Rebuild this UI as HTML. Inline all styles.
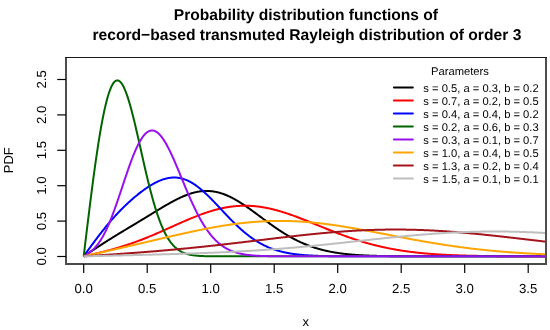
<!DOCTYPE html>
<html><head><meta charset="utf-8"><style>
html,body{margin:0;padding:0;background:#fff;}
svg{display:block;}
text{font-family:"Liberation Sans",Arial,sans-serif;fill:#000;text-rendering:geometricPrecision;}
</style></head><body>
<svg width="550" height="330" viewBox="0 0 550 330">
<rect width="550" height="330" fill="#fff"/>
<g font-weight="bold" font-size="15.6" text-anchor="middle">
<text x="305.9" y="20">Probability distribution functions of</text>
<text x="306.9" y="39.6" font-size="15.65">record−based transmuted Rayleigh distribution of order 3</text>
</g>
<defs><clipPath id="pr"><rect x="66" y="57.5" width="480" height="206.5"/></clipPath></defs>
<g clip-path="url(#pr)" fill="none" stroke-width="2" stroke-linejoin="round" stroke-linecap="butt">
<polyline points="83.70,256.35 84.34,255.92 84.97,255.50 85.61,255.07 86.24,254.65 86.88,254.23 87.51,253.80 88.15,253.38 88.78,252.95 89.42,252.53 90.05,252.11 90.69,251.68 91.32,251.26 91.95,250.84 92.59,250.42 93.23,250.00 93.86,249.58 94.50,249.16 95.13,248.74 95.77,248.32 96.40,247.90 97.03,247.49 97.67,247.07 98.31,246.65 98.94,246.24 99.58,245.83 100.21,245.41 100.84,245.00 101.48,244.59 102.12,244.18 102.75,243.77 103.39,243.36 104.02,242.96 104.66,242.55 105.29,242.14 105.93,241.74 106.56,241.34 107.20,240.93 107.83,240.53 108.47,240.13 109.10,239.73 109.74,239.33 110.37,238.94 111.00,238.54 111.64,238.14 112.28,237.75 112.91,237.35 113.55,236.96 114.18,236.57 114.81,236.18 115.45,235.79 116.09,235.40 116.72,235.01 117.36,234.62 117.99,234.23 118.62,233.84 119.26,233.45 119.90,233.07 120.53,232.68 121.16,232.30 121.80,231.91 122.44,231.53 123.07,231.15 123.71,230.76 124.34,230.38 124.97,230.00 125.61,229.62 126.25,229.23 126.88,228.85 127.52,228.47 128.15,228.09 128.78,227.71 129.42,227.33 130.06,226.95 130.69,226.57 131.32,226.19 131.96,225.80 132.59,225.42 133.23,225.04 133.87,224.66 134.50,224.28 135.13,223.90 135.77,223.52 136.41,223.13 137.04,222.75 137.68,222.37 138.31,221.99 138.94,221.60 139.58,221.22 140.22,220.84 140.85,220.45 141.49,220.07 142.12,219.69 142.75,219.30 143.39,218.92 144.03,218.53 144.66,218.15 145.30,217.76 145.93,217.37 146.56,216.99 147.20,216.60 147.84,216.21 148.47,215.83 149.11,215.44 149.74,215.05 150.38,214.66 151.01,214.28 151.65,213.89 152.28,213.50 152.92,213.11 153.55,212.73 154.19,212.34 154.82,211.95 155.46,211.57 156.09,211.18 156.73,210.79 157.36,210.41 158.00,210.02 158.63,209.64 159.26,209.26 159.90,208.87 160.53,208.49 161.17,208.11 161.81,207.73 162.44,207.35 163.07,206.98 163.71,206.60 164.34,206.23 164.98,205.85 165.62,205.48 166.25,205.11 166.88,204.75 167.52,204.38 168.16,204.02 168.79,203.66 169.43,203.30 170.06,202.94 170.69,202.59 171.33,202.24 171.97,201.89 172.60,201.54 173.24,201.20 173.87,200.86 174.50,200.53 175.14,200.20 175.78,199.87 176.41,199.54 177.05,199.22 177.68,198.91 178.31,198.60 178.95,198.29 179.59,197.99 180.22,197.69 180.86,197.39 181.49,197.10 182.12,196.82 182.76,196.54 183.40,196.27 184.03,196.00 184.67,195.74 185.30,195.48 185.94,195.23 186.57,194.99 187.21,194.75 187.84,194.51 188.48,194.29 189.11,194.07 189.75,193.86 190.38,193.65 191.01,193.45 191.65,193.26 192.28,193.07 192.92,192.89 193.56,192.72 194.19,192.56 194.82,192.40 195.46,192.25 196.09,192.11 196.73,191.98 197.37,191.85 198.00,191.74 198.63,191.63 199.27,191.52 199.91,191.43 200.54,191.35 201.18,191.27 201.81,191.20 202.44,191.14 203.08,191.09 203.72,191.05 204.35,191.01 204.99,190.99 205.62,190.97 206.25,190.96 206.89,190.96 207.53,190.97 208.16,190.99 208.80,191.02 209.43,191.05 210.06,191.10 210.70,191.15 211.34,191.21 211.97,191.28 212.61,191.36 213.24,191.45 213.88,191.55 214.51,191.65 215.14,191.77 215.78,191.89 216.42,192.02 217.05,192.16 217.69,192.31 218.32,192.47 218.95,192.64 219.59,192.81 220.23,192.99 220.86,193.18 221.50,193.38 222.13,193.59 222.76,193.81 223.40,194.03 224.04,194.26 224.67,194.50 225.31,194.75 225.94,195.01 226.57,195.27 227.21,195.54 227.85,195.82 228.48,196.10 229.12,196.39 229.75,196.69 230.38,197.00 231.02,197.31 231.66,197.63 232.29,197.96 232.93,198.29 233.56,198.63 234.19,198.97 234.83,199.32 235.47,199.68 236.10,200.04 236.74,200.41 237.37,200.78 238.00,201.16 238.64,201.55 239.28,201.94 239.91,202.33 240.55,202.73 241.18,203.13 241.81,203.54 242.45,203.95 243.09,204.37 243.72,204.79 244.36,205.21 244.99,205.64 245.62,206.07 246.26,206.51 246.89,206.95 247.53,207.39 248.17,207.83 248.80,208.28 249.44,208.73 250.07,209.18 250.70,209.64 251.34,210.09 251.98,210.55 252.61,211.01 253.25,211.48 253.88,211.94 254.51,212.41 255.15,212.87 255.79,213.34 256.42,213.81 257.06,214.28 257.69,214.75 258.32,215.22 258.96,215.69 259.60,216.16 260.23,216.63 260.87,217.10 261.50,217.57 262.13,218.05 262.77,218.52 263.41,218.99 264.04,219.46 264.68,219.92 265.31,220.39 265.94,220.86 266.58,221.32 267.22,221.79 267.85,222.25 268.49,222.71 269.12,223.17 269.75,223.63 270.39,224.08 271.03,224.54 271.66,224.99 272.30,225.44 272.93,225.89 273.56,226.33 274.20,226.78 274.84,227.22 275.47,227.65 276.11,228.09 276.74,228.52 277.38,228.95 278.01,229.38 278.65,229.80 279.28,230.22 279.92,230.64 280.55,231.05 281.19,231.46 281.82,231.87 282.45,232.27 283.09,232.67 283.73,233.07 284.36,233.47 285.00,233.86 285.63,234.24 286.26,234.62 286.90,235.00 287.54,235.38 288.17,235.75 288.81,236.12 289.44,236.48 290.07,236.84 290.71,237.20 291.35,237.55 291.98,237.90 292.62,238.24 293.25,238.58 293.88,238.92 294.52,239.25 295.16,239.58 295.79,239.90 296.43,240.22 297.06,240.53 297.69,240.85 298.33,241.15 298.97,241.46 299.60,241.75 300.24,242.05 300.87,242.34 301.50,242.63 302.14,242.91 302.78,243.19 303.41,243.46 304.05,243.73 304.68,244.00 305.31,244.26 305.95,244.52 306.59,244.77 307.22,245.03 307.86,245.27 308.49,245.51 309.12,245.75 309.76,245.99 310.40,246.22 311.03,246.45 311.67,246.67 312.30,246.89 312.94,247.10 313.57,247.32 314.20,247.52 314.84,247.73 315.48,247.93 316.11,248.13 316.75,248.32 317.38,248.51 318.01,248.70 318.65,248.88 319.29,249.06 319.92,249.24 320.56,249.41 321.19,249.58 321.82,249.74 322.46,249.91 323.10,250.07 323.73,250.22 324.37,250.38 325.00,250.53 325.63,250.67 326.27,250.82 326.91,250.96 327.54,251.10 328.18,251.23 328.81,251.37 329.44,251.50 330.08,251.62 330.72,251.75 331.35,251.87 331.99,251.99 332.62,252.11 333.25,252.22 333.89,252.33 334.53,252.44 335.16,252.55 335.80,252.65 336.43,252.75 337.06,252.85 337.70,252.95 338.33,253.04 338.97,253.13 339.61,253.22 340.24,253.31 340.88,253.40 341.51,253.48 342.14,253.56 342.78,253.64 343.41,253.72 344.05,253.80 344.69,253.87 345.32,253.94 345.95,254.01 346.59,254.08 347.23,254.15 347.86,254.21 348.50,254.28 349.13,254.34 349.76,254.40 350.40,254.46 351.03,254.52 351.67,254.57 352.31,254.63 352.94,254.68 353.57,254.73 354.21,254.78 354.85,254.83 355.48,254.88 356.12,254.92 356.75,254.97 357.39,255.01 358.02,255.05 358.65,255.09 359.29,255.13 359.93,255.17 360.56,255.21 361.19,255.25 361.83,255.28 362.46,255.32 363.10,255.35 363.74,255.38 364.37,255.41 365.00,255.44 365.64,255.47 366.27,255.50 366.91,255.53 367.54,255.56 368.18,255.59 368.81,255.61 369.45,255.64 370.08,255.66 370.72,255.68 371.36,255.71 371.99,255.73 372.62,255.75 373.26,255.77 373.89,255.79 374.53,255.81 375.16,255.83 375.80,255.85 376.44,255.86 377.07,255.88 377.70,255.90 378.34,255.91 378.98,255.93 379.61,255.94 380.25,255.96 380.88,255.97 381.51,255.99 382.15,256.00 382.78,256.01 383.42,256.02 384.06,256.04 384.69,256.05 385.32,256.06 385.96,256.07 386.60,256.08 387.23,256.09 387.87,256.10 388.50,256.11 389.14,256.12 389.77,256.13 390.40,256.13 391.04,256.14 391.68,256.15 392.31,256.16 392.94,256.17 393.58,256.17 394.21,256.18 394.85,256.19 395.49,256.19 396.12,256.20 396.75,256.20 397.39,256.21 398.02,256.21 398.66,256.22 399.29,256.23 399.93,256.23 400.56,256.23 401.20,256.24 401.83,256.24 402.47,256.25 403.11,256.25 403.74,256.26 404.38,256.26 405.01,256.26 405.64,256.27 406.28,256.27 406.91,256.27 407.55,256.28 408.19,256.28 408.82,256.28 409.45,256.29 410.09,256.29 410.73,256.29 411.36,256.29 412.00,256.30 412.63,256.30 413.26,256.30 413.90,256.30 414.53,256.30 415.17,256.31 415.81,256.31 416.44,256.31 417.07,256.31 417.71,256.31 418.35,256.31 418.98,256.32 419.62,256.32 420.25,256.32 420.89,256.32 421.52,256.32 422.15,256.32 422.79,256.32 423.43,256.32 424.06,256.33 424.69,256.33 425.33,256.33 425.96,256.33 426.60,256.33 427.24,256.33 427.87,256.33 428.50,256.33 429.14,256.33 429.77,256.33 430.41,256.33 431.04,256.34 431.68,256.34 432.31,256.34 432.95,256.34 433.58,256.34 434.22,256.34 434.86,256.34 435.49,256.34 436.12,256.34 436.76,256.34 437.39,256.34 438.03,256.34 438.66,256.34 439.30,256.34 439.94,256.34 440.57,256.34 441.20,256.34 441.84,256.34 442.48,256.34 443.11,256.34 443.75,256.34 444.38,256.34 445.01,256.34 445.65,256.35 446.28,256.35 446.92,256.35 447.56,256.35 448.19,256.35 448.82,256.35 449.46,256.35 450.10,256.35 450.73,256.35 451.37,256.35 452.00,256.35 452.64,256.35 453.27,256.35 453.90,256.35 454.54,256.35 455.18,256.35 455.81,256.35 456.44,256.35 457.08,256.35 457.71,256.35 458.35,256.35 458.99,256.35 459.62,256.35 460.25,256.35 460.89,256.35 461.52,256.35 462.16,256.35 462.79,256.35 463.43,256.35 464.06,256.35 464.70,256.35 465.33,256.35 465.97,256.35 466.61,256.35 467.24,256.35 467.88,256.35 468.51,256.35 469.14,256.35 469.78,256.35 470.41,256.35 471.05,256.35 471.69,256.35 472.32,256.35 472.95,256.35 473.59,256.35 474.23,256.35 474.86,256.35 475.50,256.35 476.13,256.35 476.76,256.35 477.40,256.35 478.03,256.35 478.67,256.35 479.31,256.35 479.94,256.35 480.57,256.35 481.21,256.35 481.85,256.35 482.48,256.35 483.12,256.35 483.75,256.35 484.39,256.35 485.02,256.35 485.65,256.35 486.29,256.35 486.93,256.35 487.56,256.35 488.19,256.35 488.83,256.35 489.47,256.35 490.10,256.35 490.74,256.35 491.37,256.35 492.00,256.35 492.64,256.35 493.27,256.35 493.91,256.35 494.54,256.35 495.18,256.35 495.81,256.35 496.45,256.35 497.08,256.35 497.72,256.35 498.36,256.35 498.99,256.35 499.62,256.35 500.26,256.35 500.89,256.35 501.53,256.35 502.16,256.35 502.80,256.35 503.44,256.35 504.07,256.35 504.70,256.35 505.34,256.35 505.98,256.35 506.61,256.35 507.25,256.35 507.88,256.35 508.51,256.35 509.15,256.35 509.78,256.35 510.42,256.35 511.06,256.35 511.69,256.35 512.33,256.35 512.96,256.35 513.60,256.35 514.23,256.35 514.87,256.35 515.50,256.35 516.14,256.35 516.77,256.35 517.40,256.35 518.04,256.35 518.68,256.35 519.31,256.35 519.95,256.35 520.58,256.35 521.22,256.35 521.85,256.35 522.49,256.35 523.12,256.35 523.75,256.35 524.39,256.35 525.02,256.35 525.66,256.35 526.29,256.35 526.93,256.35 527.57,256.35 528.20,256.35 528.84,256.35 529.47,256.35 530.11,256.35 530.74,256.35 531.38,256.35 532.01,256.35 532.64,256.35 533.28,256.35 533.91,256.35 534.55,256.35 535.19,256.35 535.82,256.35 536.46,256.35 537.09,256.35 537.73,256.35 538.36,256.35 539.00,256.35 539.63,256.35 540.26,256.35 540.90,256.35 541.53,256.35 542.17,256.35 542.81,256.35 543.44,256.35 544.08,256.35 544.71,256.35 545.35,256.35 545.98,256.35 546.62,256.35 547.25,256.35 547.89,256.35 548.52,256.35 549.15,256.35 549.79,256.35 550.43,256.35 551.06,256.35 551.70,256.35 552.33,256.35 552.97,256.35 553.60,256.35 554.24,256.35 554.87,256.35 555.50,256.35 556.14,256.35 556.77,256.35 557.41,256.35 558.04,256.35 558.68,256.35 559.32,256.35 559.95,256.35 560.59,256.35 561.22,256.35 561.86,256.35 562.49,256.35 563.12,256.35 563.76,256.35 564.39,256.35 565.03,256.35 565.66,256.35 566.30,256.35" stroke="#000000"/><polyline points="83.70,256.35 84.34,256.21 84.97,256.06 85.61,255.92 86.24,255.77 86.88,255.63 87.51,255.48 88.15,255.34 88.78,255.19 89.42,255.04 90.05,254.90 90.69,254.75 91.32,254.61 91.95,254.46 92.59,254.31 93.23,254.16 93.86,254.01 94.50,253.86 95.13,253.72 95.77,253.57 96.40,253.41 97.03,253.26 97.67,253.11 98.31,252.96 98.94,252.80 99.58,252.65 100.21,252.49 100.84,252.34 101.48,252.18 102.12,252.02 102.75,251.87 103.39,251.71 104.02,251.55 104.66,251.38 105.29,251.22 105.93,251.06 106.56,250.89 107.20,250.73 107.83,250.56 108.47,250.39 109.10,250.22 109.74,250.05 110.37,249.88 111.00,249.71 111.64,249.54 112.28,249.36 112.91,249.18 113.55,249.01 114.18,248.83 114.81,248.65 115.45,248.46 116.09,248.28 116.72,248.10 117.36,247.91 117.99,247.72 118.62,247.53 119.26,247.34 119.90,247.15 120.53,246.96 121.16,246.76 121.80,246.57 122.44,246.37 123.07,246.17 123.71,245.97 124.34,245.77 124.97,245.56 125.61,245.36 126.25,245.15 126.88,244.94 127.52,244.73 128.15,244.52 128.78,244.31 129.42,244.09 130.06,243.88 130.69,243.66 131.32,243.44 131.96,243.22 132.59,243.00 133.23,242.77 133.87,242.55 134.50,242.32 135.13,242.09 135.77,241.86 136.41,241.63 137.04,241.39 137.68,241.16 138.31,240.92 138.94,240.68 139.58,240.44 140.22,240.20 140.85,239.96 141.49,239.72 142.12,239.47 142.75,239.22 143.39,238.97 144.03,238.72 144.66,238.47 145.30,238.22 145.93,237.97 146.56,237.71 147.20,237.45 147.84,237.20 148.47,236.94 149.11,236.68 149.74,236.42 150.38,236.15 151.01,235.89 151.65,235.62 152.28,235.36 152.92,235.09 153.55,234.82 154.19,234.55 154.82,234.28 155.46,234.01 156.09,233.74 156.73,233.46 157.36,233.19 158.00,232.91 158.63,232.64 159.26,232.36 159.90,232.08 160.53,231.80 161.17,231.52 161.81,231.24 162.44,230.96 163.07,230.68 163.71,230.40 164.34,230.12 164.98,229.84 165.62,229.55 166.25,229.27 166.88,228.99 167.52,228.70 168.16,228.42 168.79,228.13 169.43,227.85 170.06,227.56 170.69,227.28 171.33,226.99 171.97,226.71 172.60,226.42 173.24,226.14 173.87,225.85 174.50,225.57 175.14,225.28 175.78,225.00 176.41,224.72 177.05,224.43 177.68,224.15 178.31,223.87 178.95,223.58 179.59,223.30 180.22,223.02 180.86,222.74 181.49,222.46 182.12,222.18 182.76,221.90 183.40,221.63 184.03,221.35 184.67,221.07 185.30,220.80 185.94,220.53 186.57,220.25 187.21,219.98 187.84,219.71 188.48,219.44 189.11,219.18 189.75,218.91 190.38,218.65 191.01,218.38 191.65,218.12 192.28,217.86 192.92,217.60 193.56,217.34 194.19,217.09 194.82,216.84 195.46,216.58 196.09,216.33 196.73,216.09 197.37,215.84 198.00,215.59 198.63,215.35 199.27,215.11 199.91,214.87 200.54,214.64 201.18,214.40 201.81,214.17 202.44,213.94 203.08,213.72 203.72,213.49 204.35,213.27 204.99,213.05 205.62,212.83 206.25,212.62 206.89,212.41 207.53,212.20 208.16,211.99 208.80,211.79 209.43,211.59 210.06,211.39 210.70,211.20 211.34,211.00 211.97,210.81 212.61,210.63 213.24,210.44 213.88,210.26 214.51,210.09 215.14,209.91 215.78,209.74 216.42,209.57 217.05,209.41 217.69,209.25 218.32,209.09 218.95,208.94 219.59,208.78 220.23,208.64 220.86,208.49 221.50,208.35 222.13,208.21 222.76,208.08 223.40,207.95 224.04,207.82 224.67,207.70 225.31,207.58 225.94,207.46 226.57,207.35 227.21,207.24 227.85,207.14 228.48,207.03 229.12,206.94 229.75,206.84 230.38,206.75 231.02,206.67 231.66,206.58 232.29,206.50 232.93,206.43 233.56,206.36 234.19,206.29 234.83,206.23 235.47,206.17 236.10,206.11 236.74,206.06 237.37,206.01 238.00,205.97 238.64,205.92 239.28,205.89 239.91,205.86 240.55,205.83 241.18,205.80 241.81,205.78 242.45,205.76 243.09,205.75 243.72,205.74 244.36,205.74 244.99,205.74 245.62,205.74 246.26,205.74 246.89,205.75 247.53,205.77 248.17,205.79 248.80,205.81 249.44,205.83 250.07,205.86 250.70,205.90 251.34,205.93 251.98,205.98 252.61,206.02 253.25,206.07 253.88,206.12 254.51,206.18 255.15,206.24 255.79,206.30 256.42,206.37 257.06,206.44 257.69,206.51 258.32,206.59 258.96,206.67 259.60,206.76 260.23,206.85 260.87,206.94 261.50,207.04 262.13,207.14 262.77,207.24 263.41,207.35 264.04,207.46 264.68,207.57 265.31,207.69 265.94,207.81 266.58,207.93 267.22,208.06 267.85,208.19 268.49,208.32 269.12,208.46 269.75,208.59 270.39,208.74 271.03,208.88 271.66,209.03 272.30,209.18 272.93,209.34 273.56,209.49 274.20,209.66 274.84,209.82 275.47,209.98 276.11,210.15 276.74,210.32 277.38,210.50 278.01,210.68 278.65,210.86 279.28,211.04 279.92,211.22 280.55,211.41 281.19,211.60 281.82,211.79 282.45,211.99 283.09,212.18 283.73,212.38 284.36,212.58 285.00,212.79 285.63,212.99 286.26,213.20 286.90,213.41 287.54,213.62 288.17,213.84 288.81,214.05 289.44,214.27 290.07,214.49 290.71,214.71 291.35,214.94 291.98,215.16 292.62,215.39 293.25,215.62 293.88,215.85 294.52,216.08 295.16,216.31 295.79,216.55 296.43,216.78 297.06,217.02 297.69,217.26 298.33,217.50 298.97,217.74 299.60,217.99 300.24,218.23 300.87,218.47 301.50,218.72 302.14,218.97 302.78,219.22 303.41,219.46 304.05,219.71 304.68,219.97 305.31,220.22 305.95,220.47 306.59,220.72 307.22,220.98 307.86,221.23 308.49,221.49 309.12,221.74 309.76,222.00 310.40,222.25 311.03,222.51 311.67,222.77 312.30,223.03 312.94,223.29 313.57,223.54 314.20,223.80 314.84,224.06 315.48,224.32 316.11,224.58 316.75,224.84 317.38,225.10 318.01,225.36 318.65,225.62 319.29,225.88 319.92,226.14 320.56,226.39 321.19,226.65 321.82,226.91 322.46,227.17 323.10,227.43 323.73,227.69 324.37,227.94 325.00,228.20 325.63,228.46 326.27,228.71 326.91,228.97 327.54,229.22 328.18,229.48 328.81,229.73 329.44,229.99 330.08,230.24 330.72,230.49 331.35,230.74 331.99,230.99 332.62,231.24 333.25,231.49 333.89,231.74 334.53,231.99 335.16,232.24 335.80,232.48 336.43,232.73 337.06,232.97 337.70,233.21 338.33,233.46 338.97,233.70 339.61,233.94 340.24,234.18 340.88,234.41 341.51,234.65 342.14,234.89 342.78,235.12 343.41,235.35 344.05,235.59 344.69,235.82 345.32,236.05 345.95,236.28 346.59,236.50 347.23,236.73 347.86,236.95 348.50,237.18 349.13,237.40 349.76,237.62 350.40,237.84 351.03,238.06 351.67,238.27 352.31,238.49 352.94,238.70 353.57,238.92 354.21,239.13 354.85,239.34 355.48,239.55 356.12,239.75 356.75,239.96 357.39,240.16 358.02,240.36 358.65,240.57 359.29,240.77 359.93,240.96 360.56,241.16 361.19,241.35 361.83,241.55 362.46,241.74 363.10,241.93 363.74,242.12 364.37,242.31 365.00,242.49 365.64,242.68 366.27,242.86 366.91,243.04 367.54,243.22 368.18,243.40 368.81,243.57 369.45,243.75 370.08,243.92 370.72,244.09 371.36,244.26 371.99,244.43 372.62,244.60 373.26,244.76 373.89,244.93 374.53,245.09 375.16,245.25 375.80,245.41 376.44,245.57 377.07,245.72 377.70,245.88 378.34,246.03 378.98,246.18 379.61,246.33 380.25,246.48 380.88,246.62 381.51,246.77 382.15,246.91 382.78,247.05 383.42,247.19 384.06,247.33 384.69,247.47 385.32,247.60 385.96,247.74 386.60,247.87 387.23,248.00 387.87,248.13 388.50,248.26 389.14,248.39 389.77,248.51 390.40,248.64 391.04,248.76 391.68,248.88 392.31,249.00 392.94,249.12 393.58,249.23 394.21,249.35 394.85,249.46 395.49,249.57 396.12,249.68 396.75,249.79 397.39,249.90 398.02,250.01 398.66,250.11 399.29,250.22 399.93,250.32 400.56,250.42 401.20,250.52 401.83,250.62 402.47,250.72 403.11,250.81 403.74,250.91 404.38,251.00 405.01,251.09 405.64,251.18 406.28,251.27 406.91,251.36 407.55,251.45 408.19,251.53 408.82,251.62 409.45,251.70 410.09,251.79 410.73,251.87 411.36,251.95 412.00,252.03 412.63,252.10 413.26,252.18 413.90,252.26 414.53,252.33 415.17,252.40 415.81,252.47 416.44,252.55 417.07,252.62 417.71,252.68 418.35,252.75 418.98,252.82 419.62,252.89 420.25,252.95 420.89,253.01 421.52,253.08 422.15,253.14 422.79,253.20 423.43,253.26 424.06,253.32 424.69,253.38 425.33,253.43 425.96,253.49 426.60,253.54 427.24,253.60 427.87,253.65 428.50,253.71 429.14,253.76 429.77,253.81 430.41,253.86 431.04,253.91 431.68,253.96 432.31,254.00 432.95,254.05 433.58,254.10 434.22,254.14 434.86,254.19 435.49,254.23 436.12,254.27 436.76,254.31 437.39,254.36 438.03,254.40 438.66,254.44 439.30,254.48 439.94,254.51 440.57,254.55 441.20,254.59 441.84,254.63 442.48,254.66 443.11,254.70 443.75,254.73 444.38,254.77 445.01,254.80 445.65,254.83 446.28,254.86 446.92,254.90 447.56,254.93 448.19,254.96 448.82,254.99 449.46,255.02 450.10,255.05 450.73,255.07 451.37,255.10 452.00,255.13 452.64,255.15 453.27,255.18 453.90,255.21 454.54,255.23 455.18,255.26 455.81,255.28 456.44,255.30 457.08,255.33 457.71,255.35 458.35,255.37 458.99,255.39 459.62,255.42 460.25,255.44 460.89,255.46 461.52,255.48 462.16,255.50 462.79,255.52 463.43,255.54 464.06,255.55 464.70,255.57 465.33,255.59 465.97,255.61 466.61,255.63 467.24,255.64 467.88,255.66 468.51,255.67 469.14,255.69 469.78,255.71 470.41,255.72 471.05,255.74 471.69,255.75 472.32,255.76 472.95,255.78 473.59,255.79 474.23,255.81 474.86,255.82 475.50,255.83 476.13,255.84 476.76,255.86 477.40,255.87 478.03,255.88 478.67,255.89 479.31,255.90 479.94,255.91 480.57,255.92 481.21,255.93 481.85,255.94 482.48,255.95 483.12,255.96 483.75,255.97 484.39,255.98 485.02,255.99 485.65,256.00 486.29,256.01 486.93,256.02 487.56,256.03 488.19,256.03 488.83,256.04 489.47,256.05 490.10,256.06 490.74,256.07 491.37,256.07 492.00,256.08 492.64,256.09 493.27,256.09 493.91,256.10 494.54,256.11 495.18,256.11 495.81,256.12 496.45,256.12 497.08,256.13 497.72,256.14 498.36,256.14 498.99,256.15 499.62,256.15 500.26,256.16 500.89,256.16 501.53,256.17 502.16,256.17 502.80,256.18 503.44,256.18 504.07,256.19 504.70,256.19 505.34,256.19 505.98,256.20 506.61,256.20 507.25,256.21 507.88,256.21 508.51,256.21 509.15,256.22 509.78,256.22 510.42,256.23 511.06,256.23 511.69,256.23 512.33,256.24 512.96,256.24 513.60,256.24 514.23,256.24 514.87,256.25 515.50,256.25 516.14,256.25 516.77,256.26 517.40,256.26 518.04,256.26 518.68,256.26 519.31,256.27 519.95,256.27 520.58,256.27 521.22,256.27 521.85,256.27 522.49,256.28 523.12,256.28 523.75,256.28 524.39,256.28 525.02,256.28 525.66,256.29 526.29,256.29 526.93,256.29 527.57,256.29 528.20,256.29 528.84,256.30 529.47,256.30 530.11,256.30 530.74,256.30 531.38,256.30 532.01,256.30 532.64,256.30 533.28,256.31 533.91,256.31 534.55,256.31 535.19,256.31 535.82,256.31 536.46,256.31 537.09,256.31 537.73,256.31 538.36,256.31 539.00,256.32 539.63,256.32 540.26,256.32 540.90,256.32 541.53,256.32 542.17,256.32 542.81,256.32 543.44,256.32 544.08,256.32 544.71,256.32 545.35,256.32 545.98,256.33 546.62,256.33 547.25,256.33 547.89,256.33 548.52,256.33 549.15,256.33 549.79,256.33 550.43,256.33 551.06,256.33 551.70,256.33 552.33,256.33 552.97,256.33 553.60,256.33 554.24,256.33 554.87,256.33 555.50,256.33 556.14,256.34 556.77,256.34 557.41,256.34 558.04,256.34 558.68,256.34 559.32,256.34 559.95,256.34 560.59,256.34 561.22,256.34 561.86,256.34 562.49,256.34 563.12,256.34 563.76,256.34 564.39,256.34 565.03,256.34 565.66,256.34 566.30,256.34" stroke="#FF0000"/><polyline points="83.70,256.35 84.34,255.46 84.97,254.58 85.61,253.69 86.24,252.81 86.88,251.93 87.51,251.04 88.15,250.16 88.78,249.28 89.42,248.40 90.05,247.53 90.69,246.65 91.32,245.78 91.95,244.91 92.59,244.04 93.23,243.18 93.86,242.32 94.50,241.46 95.13,240.61 95.77,239.75 96.40,238.91 97.03,238.06 97.67,237.22 98.31,236.38 98.94,235.55 99.58,234.72 100.21,233.90 100.84,233.08 101.48,232.27 102.12,231.46 102.75,230.65 103.39,229.85 104.02,229.06 104.66,228.27 105.29,227.48 105.93,226.71 106.56,225.93 107.20,225.16 107.83,224.40 108.47,223.64 109.10,222.89 109.74,222.14 110.37,221.40 111.00,220.67 111.64,219.94 112.28,219.21 112.91,218.49 113.55,217.78 114.18,217.07 114.81,216.37 115.45,215.67 116.09,214.98 116.72,214.30 117.36,213.62 117.99,212.94 118.62,212.27 119.26,211.61 119.90,210.95 120.53,210.30 121.16,209.65 121.80,209.01 122.44,208.38 123.07,207.75 123.71,207.12 124.34,206.50 124.97,205.88 125.61,205.27 126.25,204.67 126.88,204.07 127.52,203.47 128.15,202.88 128.78,202.30 129.42,201.72 130.06,201.15 130.69,200.58 131.32,200.01 131.96,199.45 132.59,198.90 133.23,198.35 133.87,197.80 134.50,197.26 135.13,196.73 135.77,196.20 136.41,195.67 137.04,195.15 137.68,194.64 138.31,194.13 138.94,193.63 139.58,193.13 140.22,192.64 140.85,192.15 141.49,191.67 142.12,191.19 142.75,190.72 143.39,190.25 144.03,189.79 144.66,189.34 145.30,188.89 145.93,188.45 146.56,188.02 147.20,187.59 147.84,187.17 148.47,186.75 149.11,186.35 149.74,185.94 150.38,185.55 151.01,185.16 151.65,184.78 152.28,184.41 152.92,184.05 153.55,183.69 154.19,183.34 154.82,183.01 155.46,182.67 156.09,182.35 156.73,182.04 157.36,181.73 158.00,181.44 158.63,181.15 159.26,180.87 159.90,180.61 160.53,180.35 161.17,180.10 161.81,179.86 162.44,179.64 163.07,179.42 163.71,179.22 164.34,179.02 164.98,178.84 165.62,178.67 166.25,178.51 166.88,178.36 167.52,178.22 168.16,178.10 168.79,177.99 169.43,177.88 170.06,177.80 170.69,177.72 171.33,177.66 171.97,177.61 172.60,177.57 173.24,177.55 173.87,177.53 174.50,177.54 175.14,177.55 175.78,177.58 176.41,177.62 177.05,177.68 177.68,177.75 178.31,177.83 178.95,177.93 179.59,178.04 180.22,178.16 180.86,178.30 181.49,178.45 182.12,178.61 182.76,178.79 183.40,178.98 184.03,179.19 184.67,179.41 185.30,179.64 185.94,179.89 186.57,180.15 187.21,180.42 187.84,180.71 188.48,181.01 189.11,181.32 189.75,181.65 190.38,181.98 191.01,182.33 191.65,182.70 192.28,183.07 192.92,183.46 193.56,183.86 194.19,184.27 194.82,184.70 195.46,185.13 196.09,185.58 196.73,186.04 197.37,186.51 198.00,186.98 198.63,187.47 199.27,187.97 199.91,188.48 200.54,189.00 201.18,189.53 201.81,190.07 202.44,190.62 203.08,191.17 203.72,191.74 204.35,192.31 204.99,192.89 205.62,193.47 206.25,194.07 206.89,194.67 207.53,195.28 208.16,195.89 208.80,196.51 209.43,197.14 210.06,197.77 210.70,198.41 211.34,199.05 211.97,199.70 212.61,200.35 213.24,201.00 213.88,201.66 214.51,202.32 215.14,202.99 215.78,203.65 216.42,204.32 217.05,204.99 217.69,205.67 218.32,206.34 218.95,207.02 219.59,207.70 220.23,208.37 220.86,209.05 221.50,209.73 222.13,210.41 222.76,211.09 223.40,211.76 224.04,212.44 224.67,213.11 225.31,213.79 225.94,214.46 226.57,215.13 227.21,215.79 227.85,216.46 228.48,217.12 229.12,217.78 229.75,218.43 230.38,219.09 231.02,219.73 231.66,220.38 232.29,221.02 232.93,221.66 233.56,222.29 234.19,222.92 234.83,223.54 235.47,224.16 236.10,224.77 236.74,225.38 237.37,225.98 238.00,226.57 238.64,227.17 239.28,227.75 239.91,228.33 240.55,228.90 241.18,229.47 241.81,230.03 242.45,230.58 243.09,231.13 243.72,231.67 244.36,232.21 244.99,232.73 245.62,233.25 246.26,233.77 246.89,234.27 247.53,234.77 248.17,235.27 248.80,235.75 249.44,236.23 250.07,236.70 250.70,237.17 251.34,237.63 251.98,238.08 252.61,238.52 253.25,238.96 253.88,239.38 254.51,239.81 255.15,240.22 255.79,240.63 256.42,241.03 257.06,241.42 257.69,241.81 258.32,242.18 258.96,242.56 259.60,242.92 260.23,243.28 260.87,243.63 261.50,243.97 262.13,244.31 262.77,244.64 263.41,244.96 264.04,245.28 264.68,245.59 265.31,245.89 265.94,246.19 266.58,246.48 267.22,246.76 267.85,247.04 268.49,247.31 269.12,247.58 269.75,247.83 270.39,248.09 271.03,248.34 271.66,248.58 272.30,248.81 272.93,249.04 273.56,249.27 274.20,249.49 274.84,249.70 275.47,249.91 276.11,250.11 276.74,250.31 277.38,250.50 278.01,250.69 278.65,250.87 279.28,251.05 279.92,251.22 280.55,251.39 281.19,251.55 281.82,251.71 282.45,251.87 283.09,252.02 283.73,252.16 284.36,252.30 285.00,252.44 285.63,252.58 286.26,252.71 286.90,252.83 287.54,252.96 288.17,253.07 288.81,253.19 289.44,253.30 290.07,253.41 290.71,253.52 291.35,253.62 291.98,253.72 292.62,253.81 293.25,253.90 293.88,253.99 294.52,254.08 295.16,254.17 295.79,254.25 296.43,254.33 297.06,254.40 297.69,254.48 298.33,254.55 298.97,254.62 299.60,254.68 300.24,254.75 300.87,254.81 301.50,254.87 302.14,254.93 302.78,254.98 303.41,255.04 304.05,255.09 304.68,255.14 305.31,255.19 305.95,255.23 306.59,255.28 307.22,255.32 307.86,255.36 308.49,255.41 309.12,255.44 309.76,255.48 310.40,255.52 311.03,255.55 311.67,255.59 312.30,255.62 312.94,255.65 313.57,255.68 314.20,255.71 314.84,255.73 315.48,255.76 316.11,255.79 316.75,255.81 317.38,255.83 318.01,255.86 318.65,255.88 319.29,255.90 319.92,255.92 320.56,255.94 321.19,255.96 321.82,255.97 322.46,255.99 323.10,256.01 323.73,256.02 324.37,256.04 325.00,256.05 325.63,256.07 326.27,256.08 326.91,256.09 327.54,256.10 328.18,256.11 328.81,256.13 329.44,256.14 330.08,256.15 330.72,256.16 331.35,256.16 331.99,256.17 332.62,256.18 333.25,256.19 333.89,256.20 334.53,256.21 335.16,256.21 335.80,256.22 336.43,256.23 337.06,256.23 337.70,256.24 338.33,256.24 338.97,256.25 339.61,256.25 340.24,256.26 340.88,256.26 341.51,256.27 342.14,256.27 342.78,256.28 343.41,256.28 344.05,256.28 344.69,256.29 345.32,256.29 345.95,256.29 346.59,256.30 347.23,256.30 347.86,256.30 348.50,256.30 349.13,256.31 349.76,256.31 350.40,256.31 351.03,256.31 351.67,256.31 352.31,256.32 352.94,256.32 353.57,256.32 354.21,256.32 354.85,256.32 355.48,256.32 356.12,256.33 356.75,256.33 357.39,256.33 358.02,256.33 358.65,256.33 359.29,256.33 359.93,256.33 360.56,256.33 361.19,256.33 361.83,256.34 362.46,256.34 363.10,256.34 363.74,256.34 364.37,256.34 365.00,256.34 365.64,256.34 366.27,256.34 366.91,256.34 367.54,256.34 368.18,256.34 368.81,256.34 369.45,256.34 370.08,256.34 370.72,256.34 371.36,256.34 371.99,256.34 372.62,256.34 373.26,256.34 373.89,256.35 374.53,256.35 375.16,256.35 375.80,256.35 376.44,256.35 377.07,256.35 377.70,256.35 378.34,256.35 378.98,256.35 379.61,256.35 380.25,256.35 380.88,256.35 381.51,256.35 382.15,256.35 382.78,256.35 383.42,256.35 384.06,256.35 384.69,256.35 385.32,256.35 385.96,256.35 386.60,256.35 387.23,256.35 387.87,256.35 388.50,256.35 389.14,256.35 389.77,256.35 390.40,256.35 391.04,256.35 391.68,256.35 392.31,256.35 392.94,256.35 393.58,256.35 394.21,256.35 394.85,256.35 395.49,256.35 396.12,256.35 396.75,256.35 397.39,256.35 398.02,256.35 398.66,256.35 399.29,256.35 399.93,256.35 400.56,256.35 401.20,256.35 401.83,256.35 402.47,256.35 403.11,256.35 403.74,256.35 404.38,256.35 405.01,256.35 405.64,256.35 406.28,256.35 406.91,256.35 407.55,256.35 408.19,256.35 408.82,256.35 409.45,256.35 410.09,256.35 410.73,256.35 411.36,256.35 412.00,256.35 412.63,256.35 413.26,256.35 413.90,256.35 414.53,256.35 415.17,256.35 415.81,256.35 416.44,256.35 417.07,256.35 417.71,256.35 418.35,256.35 418.98,256.35 419.62,256.35 420.25,256.35 420.89,256.35 421.52,256.35 422.15,256.35 422.79,256.35 423.43,256.35 424.06,256.35 424.69,256.35 425.33,256.35 425.96,256.35 426.60,256.35 427.24,256.35 427.87,256.35 428.50,256.35 429.14,256.35 429.77,256.35 430.41,256.35 431.04,256.35 431.68,256.35 432.31,256.35 432.95,256.35 433.58,256.35 434.22,256.35 434.86,256.35 435.49,256.35 436.12,256.35 436.76,256.35 437.39,256.35 438.03,256.35 438.66,256.35 439.30,256.35 439.94,256.35 440.57,256.35 441.20,256.35 441.84,256.35 442.48,256.35 443.11,256.35 443.75,256.35 444.38,256.35 445.01,256.35 445.65,256.35 446.28,256.35 446.92,256.35 447.56,256.35 448.19,256.35 448.82,256.35 449.46,256.35 450.10,256.35 450.73,256.35 451.37,256.35 452.00,256.35 452.64,256.35 453.27,256.35 453.90,256.35 454.54,256.35 455.18,256.35 455.81,256.35 456.44,256.35 457.08,256.35 457.71,256.35 458.35,256.35 458.99,256.35 459.62,256.35 460.25,256.35 460.89,256.35 461.52,256.35 462.16,256.35 462.79,256.35 463.43,256.35 464.06,256.35 464.70,256.35 465.33,256.35 465.97,256.35 466.61,256.35 467.24,256.35 467.88,256.35 468.51,256.35 469.14,256.35 469.78,256.35 470.41,256.35 471.05,256.35 471.69,256.35 472.32,256.35 472.95,256.35 473.59,256.35 474.23,256.35 474.86,256.35 475.50,256.35 476.13,256.35 476.76,256.35 477.40,256.35 478.03,256.35 478.67,256.35 479.31,256.35 479.94,256.35 480.57,256.35 481.21,256.35 481.85,256.35 482.48,256.35 483.12,256.35 483.75,256.35 484.39,256.35 485.02,256.35 485.65,256.35 486.29,256.35 486.93,256.35 487.56,256.35 488.19,256.35 488.83,256.35 489.47,256.35 490.10,256.35 490.74,256.35 491.37,256.35 492.00,256.35 492.64,256.35 493.27,256.35 493.91,256.35 494.54,256.35 495.18,256.35 495.81,256.35 496.45,256.35 497.08,256.35 497.72,256.35 498.36,256.35 498.99,256.35 499.62,256.35 500.26,256.35 500.89,256.35 501.53,256.35 502.16,256.35 502.80,256.35 503.44,256.35 504.07,256.35 504.70,256.35 505.34,256.35 505.98,256.35 506.61,256.35 507.25,256.35 507.88,256.35 508.51,256.35 509.15,256.35 509.78,256.35 510.42,256.35 511.06,256.35 511.69,256.35 512.33,256.35 512.96,256.35 513.60,256.35 514.23,256.35 514.87,256.35 515.50,256.35 516.14,256.35 516.77,256.35 517.40,256.35 518.04,256.35 518.68,256.35 519.31,256.35 519.95,256.35 520.58,256.35 521.22,256.35 521.85,256.35 522.49,256.35 523.12,256.35 523.75,256.35 524.39,256.35 525.02,256.35 525.66,256.35 526.29,256.35 526.93,256.35 527.57,256.35 528.20,256.35 528.84,256.35 529.47,256.35 530.11,256.35 530.74,256.35 531.38,256.35 532.01,256.35 532.64,256.35 533.28,256.35 533.91,256.35 534.55,256.35 535.19,256.35 535.82,256.35 536.46,256.35 537.09,256.35 537.73,256.35 538.36,256.35 539.00,256.35 539.63,256.35 540.26,256.35 540.90,256.35 541.53,256.35 542.17,256.35 542.81,256.35 543.44,256.35 544.08,256.35 544.71,256.35 545.35,256.35 545.98,256.35 546.62,256.35 547.25,256.35 547.89,256.35 548.52,256.35 549.15,256.35 549.79,256.35 550.43,256.35 551.06,256.35 551.70,256.35 552.33,256.35 552.97,256.35 553.60,256.35 554.24,256.35 554.87,256.35 555.50,256.35 556.14,256.35 556.77,256.35 557.41,256.35 558.04,256.35 558.68,256.35 559.32,256.35 559.95,256.35 560.59,256.35 561.22,256.35 561.86,256.35 562.49,256.35 563.12,256.35 563.76,256.35 564.39,256.35 565.03,256.35 565.66,256.35 566.30,256.35" stroke="#0000FF"/><polyline points="83.70,256.35 84.34,251.04 84.97,245.73 85.61,240.43 86.24,235.15 86.88,229.88 87.51,224.65 88.15,219.44 88.78,214.26 89.42,209.13 90.05,204.04 90.69,199.00 91.32,194.01 91.95,189.08 92.59,184.21 93.23,179.41 93.86,174.69 94.50,170.03 95.13,165.46 95.77,160.98 96.40,156.58 97.03,152.27 97.67,148.07 98.31,143.96 98.94,139.95 99.58,136.06 100.21,132.27 100.84,128.60 101.48,125.05 102.12,121.61 102.75,118.30 103.39,115.12 104.02,112.07 104.66,109.14 105.29,106.35 105.93,103.70 106.56,101.18 107.20,98.80 107.83,96.56 108.47,94.47 109.10,92.52 109.74,90.71 110.37,89.05 111.00,87.53 111.64,86.16 112.28,84.94 112.91,83.86 113.55,82.93 114.18,82.14 114.81,81.50 115.45,81.01 116.09,80.66 116.72,80.45 117.36,80.38 117.99,80.45 118.62,80.66 119.26,81.01 119.90,81.49 120.53,82.10 121.16,82.84 121.80,83.70 122.44,84.69 123.07,85.80 123.71,87.03 124.34,88.37 124.97,89.82 125.61,91.38 126.25,93.04 126.88,94.80 127.52,96.65 128.15,98.60 128.78,100.63 129.42,102.75 130.06,104.94 130.69,107.21 131.32,109.55 131.96,111.95 132.59,114.41 133.23,116.93 133.87,119.50 134.50,122.11 135.13,124.77 135.77,127.46 136.41,130.19 137.04,132.95 137.68,135.73 138.31,138.52 138.94,141.34 139.58,144.16 140.22,147.00 140.85,149.83 141.49,152.67 142.12,155.49 142.75,158.31 143.39,161.12 144.03,163.91 144.66,166.69 145.30,169.44 145.93,172.16 146.56,174.86 147.20,177.52 147.84,180.15 148.47,182.75 149.11,185.31 149.74,187.82 150.38,190.30 151.01,192.72 151.65,195.11 152.28,197.44 152.92,199.73 153.55,201.96 154.19,204.15 154.82,206.28 155.46,208.35 156.09,210.38 156.73,212.35 157.36,214.26 158.00,216.12 158.63,217.93 159.26,219.68 159.90,221.37 160.53,223.01 161.17,224.60 161.81,226.13 162.44,227.61 163.07,229.04 163.71,230.41 164.34,231.73 164.98,233.00 165.62,234.22 166.25,235.39 166.88,236.52 167.52,237.59 168.16,238.62 168.79,239.61 169.43,240.55 170.06,241.45 170.69,242.31 171.33,243.13 171.97,243.91 172.60,244.65 173.24,245.36 173.87,246.03 174.50,246.66 175.14,247.27 175.78,247.84 176.41,248.38 177.05,248.89 177.68,249.38 178.31,249.83 178.95,250.27 179.59,250.67 180.22,251.06 180.86,251.42 181.49,251.76 182.12,252.08 182.76,252.38 183.40,252.66 184.03,252.92 184.67,253.17 185.30,253.40 185.94,253.62 186.57,253.82 187.21,254.01 187.84,254.19 188.48,254.35 189.11,254.51 189.75,254.65 190.38,254.78 191.01,254.90 191.65,255.02 192.28,255.13 192.92,255.22 193.56,255.32 194.19,255.40 194.82,255.48 195.46,255.55 196.09,255.62 196.73,255.68 197.37,255.74 198.00,255.79 198.63,255.84 199.27,255.88 199.91,255.92 200.54,255.96 201.18,256.00 201.81,256.03 202.44,256.06 203.08,256.08 203.72,256.11 204.35,256.13 204.99,256.15 205.62,256.17 206.25,256.19 206.89,256.20 207.53,256.22 208.16,256.23 208.80,256.24 209.43,256.25 210.06,256.26 210.70,256.27 211.34,256.28 211.97,256.28 212.61,256.29 213.24,256.30 213.88,256.30 214.51,256.31 215.14,256.31 215.78,256.32 216.42,256.32 217.05,256.32 217.69,256.33 218.32,256.33 218.95,256.33 219.59,256.33 220.23,256.33 220.86,256.34 221.50,256.34 222.13,256.34 222.76,256.34 223.40,256.34 224.04,256.34 224.67,256.34 225.31,256.34 225.94,256.34 226.57,256.35 227.21,256.35 227.85,256.35 228.48,256.35 229.12,256.35 229.75,256.35 230.38,256.35 231.02,256.35 231.66,256.35 232.29,256.35 232.93,256.35 233.56,256.35 234.19,256.35 234.83,256.35 235.47,256.35 236.10,256.35 236.74,256.35 237.37,256.35 238.00,256.35 238.64,256.35 239.28,256.35 239.91,256.35 240.55,256.35 241.18,256.35 241.81,256.35 242.45,256.35 243.09,256.35 243.72,256.35 244.36,256.35 244.99,256.35 245.62,256.35 246.26,256.35 246.89,256.35 247.53,256.35 248.17,256.35 248.80,256.35 249.44,256.35 250.07,256.35 250.70,256.35 251.34,256.35 251.98,256.35 252.61,256.35 253.25,256.35 253.88,256.35 254.51,256.35 255.15,256.35 255.79,256.35 256.42,256.35 257.06,256.35 257.69,256.35 258.32,256.35 258.96,256.35 259.60,256.35 260.23,256.35 260.87,256.35 261.50,256.35 262.13,256.35 262.77,256.35 263.41,256.35 264.04,256.35 264.68,256.35 265.31,256.35 265.94,256.35 266.58,256.35 267.22,256.35 267.85,256.35 268.49,256.35 269.12,256.35 269.75,256.35 270.39,256.35 271.03,256.35 271.66,256.35 272.30,256.35 272.93,256.35 273.56,256.35 274.20,256.35 274.84,256.35 275.47,256.35 276.11,256.35 276.74,256.35 277.38,256.35 278.01,256.35 278.65,256.35 279.28,256.35 279.92,256.35 280.55,256.35 281.19,256.35 281.82,256.35 282.45,256.35 283.09,256.35 283.73,256.35 284.36,256.35 285.00,256.35 285.63,256.35 286.26,256.35 286.90,256.35 287.54,256.35 288.17,256.35 288.81,256.35 289.44,256.35 290.07,256.35 290.71,256.35 291.35,256.35 291.98,256.35 292.62,256.35 293.25,256.35 293.88,256.35 294.52,256.35 295.16,256.35 295.79,256.35 296.43,256.35 297.06,256.35 297.69,256.35 298.33,256.35 298.97,256.35 299.60,256.35 300.24,256.35 300.87,256.35 301.50,256.35 302.14,256.35 302.78,256.35 303.41,256.35 304.05,256.35 304.68,256.35 305.31,256.35 305.95,256.35 306.59,256.35 307.22,256.35 307.86,256.35 308.49,256.35 309.12,256.35 309.76,256.35 310.40,256.35 311.03,256.35 311.67,256.35 312.30,256.35 312.94,256.35 313.57,256.35 314.20,256.35 314.84,256.35 315.48,256.35 316.11,256.35 316.75,256.35 317.38,256.35 318.01,256.35 318.65,256.35 319.29,256.35 319.92,256.35 320.56,256.35 321.19,256.35 321.82,256.35 322.46,256.35 323.10,256.35 323.73,256.35 324.37,256.35 325.00,256.35 325.63,256.35 326.27,256.35 326.91,256.35 327.54,256.35 328.18,256.35 328.81,256.35 329.44,256.35 330.08,256.35 330.72,256.35 331.35,256.35 331.99,256.35 332.62,256.35 333.25,256.35 333.89,256.35 334.53,256.35 335.16,256.35 335.80,256.35 336.43,256.35 337.06,256.35 337.70,256.35 338.33,256.35 338.97,256.35 339.61,256.35 340.24,256.35 340.88,256.35 341.51,256.35 342.14,256.35 342.78,256.35 343.41,256.35 344.05,256.35 344.69,256.35 345.32,256.35 345.95,256.35 346.59,256.35 347.23,256.35 347.86,256.35 348.50,256.35 349.13,256.35 349.76,256.35 350.40,256.35 351.03,256.35 351.67,256.35 352.31,256.35 352.94,256.35 353.57,256.35 354.21,256.35 354.85,256.35 355.48,256.35 356.12,256.35 356.75,256.35 357.39,256.35 358.02,256.35 358.65,256.35 359.29,256.35 359.93,256.35 360.56,256.35 361.19,256.35 361.83,256.35 362.46,256.35 363.10,256.35 363.74,256.35 364.37,256.35 365.00,256.35 365.64,256.35 366.27,256.35 366.91,256.35 367.54,256.35 368.18,256.35 368.81,256.35 369.45,256.35 370.08,256.35 370.72,256.35 371.36,256.35 371.99,256.35 372.62,256.35 373.26,256.35 373.89,256.35 374.53,256.35 375.16,256.35 375.80,256.35 376.44,256.35 377.07,256.35 377.70,256.35 378.34,256.35 378.98,256.35 379.61,256.35 380.25,256.35 380.88,256.35 381.51,256.35 382.15,256.35 382.78,256.35 383.42,256.35 384.06,256.35 384.69,256.35 385.32,256.35 385.96,256.35 386.60,256.35 387.23,256.35 387.87,256.35 388.50,256.35 389.14,256.35 389.77,256.35 390.40,256.35 391.04,256.35 391.68,256.35 392.31,256.35 392.94,256.35 393.58,256.35 394.21,256.35 394.85,256.35 395.49,256.35 396.12,256.35 396.75,256.35 397.39,256.35 398.02,256.35 398.66,256.35 399.29,256.35 399.93,256.35 400.56,256.35 401.20,256.35 401.83,256.35 402.47,256.35 403.11,256.35 403.74,256.35 404.38,256.35 405.01,256.35 405.64,256.35 406.28,256.35 406.91,256.35 407.55,256.35 408.19,256.35 408.82,256.35 409.45,256.35 410.09,256.35 410.73,256.35 411.36,256.35 412.00,256.35 412.63,256.35 413.26,256.35 413.90,256.35 414.53,256.35 415.17,256.35 415.81,256.35 416.44,256.35 417.07,256.35 417.71,256.35 418.35,256.35 418.98,256.35 419.62,256.35 420.25,256.35 420.89,256.35 421.52,256.35 422.15,256.35 422.79,256.35 423.43,256.35 424.06,256.35 424.69,256.35 425.33,256.35 425.96,256.35 426.60,256.35 427.24,256.35 427.87,256.35 428.50,256.35 429.14,256.35 429.77,256.35 430.41,256.35 431.04,256.35 431.68,256.35 432.31,256.35 432.95,256.35 433.58,256.35 434.22,256.35 434.86,256.35 435.49,256.35 436.12,256.35 436.76,256.35 437.39,256.35 438.03,256.35 438.66,256.35 439.30,256.35 439.94,256.35 440.57,256.35 441.20,256.35 441.84,256.35 442.48,256.35 443.11,256.35 443.75,256.35 444.38,256.35 445.01,256.35 445.65,256.35 446.28,256.35 446.92,256.35 447.56,256.35 448.19,256.35 448.82,256.35 449.46,256.35 450.10,256.35 450.73,256.35 451.37,256.35 452.00,256.35 452.64,256.35 453.27,256.35 453.90,256.35 454.54,256.35 455.18,256.35 455.81,256.35 456.44,256.35 457.08,256.35 457.71,256.35 458.35,256.35 458.99,256.35 459.62,256.35 460.25,256.35 460.89,256.35 461.52,256.35 462.16,256.35 462.79,256.35 463.43,256.35 464.06,256.35 464.70,256.35 465.33,256.35 465.97,256.35 466.61,256.35 467.24,256.35 467.88,256.35 468.51,256.35 469.14,256.35 469.78,256.35 470.41,256.35 471.05,256.35 471.69,256.35 472.32,256.35 472.95,256.35 473.59,256.35 474.23,256.35 474.86,256.35 475.50,256.35 476.13,256.35 476.76,256.35 477.40,256.35 478.03,256.35 478.67,256.35 479.31,256.35 479.94,256.35 480.57,256.35 481.21,256.35 481.85,256.35 482.48,256.35 483.12,256.35 483.75,256.35 484.39,256.35 485.02,256.35 485.65,256.35 486.29,256.35 486.93,256.35 487.56,256.35 488.19,256.35 488.83,256.35 489.47,256.35 490.10,256.35 490.74,256.35 491.37,256.35 492.00,256.35 492.64,256.35 493.27,256.35 493.91,256.35 494.54,256.35 495.18,256.35 495.81,256.35 496.45,256.35 497.08,256.35 497.72,256.35 498.36,256.35 498.99,256.35 499.62,256.35 500.26,256.35 500.89,256.35 501.53,256.35 502.16,256.35 502.80,256.35 503.44,256.35 504.07,256.35 504.70,256.35 505.34,256.35 505.98,256.35 506.61,256.35 507.25,256.35 507.88,256.35 508.51,256.35 509.15,256.35 509.78,256.35 510.42,256.35 511.06,256.35 511.69,256.35 512.33,256.35 512.96,256.35 513.60,256.35 514.23,256.35 514.87,256.35 515.50,256.35 516.14,256.35 516.77,256.35 517.40,256.35 518.04,256.35 518.68,256.35 519.31,256.35 519.95,256.35 520.58,256.35 521.22,256.35 521.85,256.35 522.49,256.35 523.12,256.35 523.75,256.35 524.39,256.35 525.02,256.35 525.66,256.35 526.29,256.35 526.93,256.35 527.57,256.35 528.20,256.35 528.84,256.35 529.47,256.35 530.11,256.35 530.74,256.35 531.38,256.35 532.01,256.35 532.64,256.35 533.28,256.35 533.91,256.35 534.55,256.35 535.19,256.35 535.82,256.35 536.46,256.35 537.09,256.35 537.73,256.35 538.36,256.35 539.00,256.35 539.63,256.35 540.26,256.35 540.90,256.35 541.53,256.35 542.17,256.35 542.81,256.35 543.44,256.35 544.08,256.35 544.71,256.35 545.35,256.35 545.98,256.35 546.62,256.35 547.25,256.35 547.89,256.35 548.52,256.35 549.15,256.35 549.79,256.35 550.43,256.35 551.06,256.35 551.70,256.35 552.33,256.35 552.97,256.35 553.60,256.35 554.24,256.35 554.87,256.35 555.50,256.35 556.14,256.35 556.77,256.35 557.41,256.35 558.04,256.35 558.68,256.35 559.32,256.35 559.95,256.35 560.59,256.35 561.22,256.35 561.86,256.35 562.49,256.35 563.12,256.35 563.76,256.35 564.39,256.35 565.03,256.35 565.66,256.35 566.30,256.35" stroke="#006400"/><polyline points="83.70,256.35 84.34,255.96 84.97,255.56 85.61,255.16 86.24,254.75 86.88,254.34 87.51,253.92 88.15,253.48 88.78,253.03 89.42,252.57 90.05,252.09 90.69,251.59 91.32,251.07 91.95,250.53 92.59,249.96 93.23,249.37 93.86,248.75 94.50,248.11 95.13,247.43 95.77,246.72 96.40,245.98 97.03,245.21 97.67,244.41 98.31,243.57 98.94,242.69 99.58,241.78 100.21,240.83 100.84,239.84 101.48,238.81 102.12,237.75 102.75,236.65 103.39,235.51 104.02,234.33 104.66,233.11 105.29,231.85 105.93,230.55 106.56,229.22 107.20,227.85 107.83,226.44 108.47,224.99 109.10,223.51 109.74,221.99 110.37,220.44 111.00,218.86 111.64,217.25 112.28,215.60 112.91,213.93 113.55,212.22 114.18,210.49 114.81,208.74 115.45,206.96 116.09,205.17 116.72,203.35 117.36,201.51 117.99,199.66 118.62,197.79 119.26,195.91 119.90,194.02 120.53,192.12 121.16,190.22 121.80,188.31 122.44,186.40 123.07,184.49 123.71,182.58 124.34,180.68 124.97,178.78 125.61,176.89 126.25,175.02 126.88,173.15 127.52,171.31 128.15,169.48 128.78,167.67 129.42,165.88 130.06,164.12 130.69,162.38 131.32,160.67 131.96,158.99 132.59,157.35 133.23,155.74 133.87,154.16 134.50,152.63 135.13,151.13 135.77,149.68 136.41,148.26 137.04,146.90 137.68,145.58 138.31,144.31 138.94,143.08 139.58,141.91 140.22,140.79 140.85,139.72 141.49,138.71 142.12,137.75 142.75,136.85 143.39,136.01 144.03,135.22 144.66,134.50 145.30,133.83 145.93,133.22 146.56,132.67 147.20,132.18 147.84,131.75 148.47,131.39 149.11,131.08 149.74,130.83 150.38,130.65 151.01,130.53 151.65,130.46 152.28,130.46 152.92,130.52 153.55,130.63 154.19,130.81 154.82,131.04 155.46,131.33 156.09,131.68 156.73,132.08 157.36,132.54 158.00,133.05 158.63,133.61 159.26,134.23 159.90,134.90 160.53,135.61 161.17,136.38 161.81,137.19 162.44,138.05 163.07,138.95 163.71,139.90 164.34,140.89 164.98,141.92 165.62,142.99 166.25,144.09 166.88,145.23 167.52,146.41 168.16,147.62 168.79,148.86 169.43,150.13 170.06,151.43 170.69,152.75 171.33,154.10 171.97,155.47 172.60,156.87 173.24,158.28 173.87,159.72 174.50,161.17 175.14,162.63 175.78,164.12 176.41,165.61 177.05,167.11 177.68,168.63 178.31,170.15 178.95,171.68 179.59,173.21 180.22,174.75 180.86,176.29 181.49,177.83 182.12,179.37 182.76,180.91 183.40,182.45 184.03,183.98 184.67,185.51 185.30,187.03 185.94,188.55 186.57,190.06 187.21,191.55 187.84,193.04 188.48,194.52 189.11,195.98 189.75,197.44 190.38,198.87 191.01,200.30 191.65,201.71 192.28,203.10 192.92,204.48 193.56,205.84 194.19,207.18 194.82,208.50 195.46,209.81 196.09,211.09 196.73,212.36 197.37,213.61 198.00,214.83 198.63,216.04 199.27,217.22 199.91,218.38 200.54,219.53 201.18,220.65 201.81,221.74 202.44,222.82 203.08,223.88 203.72,224.91 204.35,225.92 204.99,226.91 205.62,227.87 206.25,228.82 206.89,229.74 207.53,230.64 208.16,231.52 208.80,232.38 209.43,233.21 210.06,234.02 210.70,234.82 211.34,235.59 211.97,236.34 212.61,237.07 213.24,237.78 213.88,238.47 214.51,239.14 215.14,239.79 215.78,240.43 216.42,241.04 217.05,241.63 217.69,242.21 218.32,242.77 218.95,243.31 219.59,243.83 220.23,244.34 220.86,244.83 221.50,245.30 222.13,245.76 222.76,246.20 223.40,246.63 224.04,247.04 224.67,247.44 225.31,247.82 225.94,248.19 226.57,248.55 227.21,248.89 227.85,249.22 228.48,249.54 229.12,249.85 229.75,250.14 230.38,250.43 231.02,250.70 231.66,250.96 232.29,251.21 232.93,251.45 233.56,251.68 234.19,251.90 234.83,252.12 235.47,252.32 236.10,252.52 236.74,252.70 237.37,252.88 238.00,253.05 238.64,253.22 239.28,253.37 239.91,253.52 240.55,253.67 241.18,253.80 241.81,253.93 242.45,254.06 243.09,254.18 243.72,254.29 244.36,254.40 244.99,254.50 245.62,254.60 246.26,254.69 246.89,254.78 247.53,254.87 248.17,254.95 248.80,255.02 249.44,255.10 250.07,255.17 250.70,255.23 251.34,255.29 251.98,255.35 252.61,255.41 253.25,255.46 253.88,255.51 254.51,255.56 255.15,255.61 255.79,255.65 256.42,255.69 257.06,255.73 257.69,255.77 258.32,255.80 258.96,255.83 259.60,255.86 260.23,255.89 260.87,255.92 261.50,255.95 262.13,255.97 262.77,255.99 263.41,256.02 264.04,256.04 264.68,256.06 265.31,256.08 265.94,256.09 266.58,256.11 267.22,256.12 267.85,256.14 268.49,256.15 269.12,256.16 269.75,256.18 270.39,256.19 271.03,256.20 271.66,256.21 272.30,256.22 272.93,256.23 273.56,256.23 274.20,256.24 274.84,256.25 275.47,256.26 276.11,256.26 276.74,256.27 277.38,256.27 278.01,256.28 278.65,256.28 279.28,256.29 279.92,256.29 280.55,256.30 281.19,256.30 281.82,256.30 282.45,256.31 283.09,256.31 283.73,256.31 284.36,256.32 285.00,256.32 285.63,256.32 286.26,256.32 286.90,256.32 287.54,256.33 288.17,256.33 288.81,256.33 289.44,256.33 290.07,256.33 290.71,256.33 291.35,256.34 291.98,256.34 292.62,256.34 293.25,256.34 293.88,256.34 294.52,256.34 295.16,256.34 295.79,256.34 296.43,256.34 297.06,256.34 297.69,256.34 298.33,256.34 298.97,256.34 299.60,256.34 300.24,256.35 300.87,256.35 301.50,256.35 302.14,256.35 302.78,256.35 303.41,256.35 304.05,256.35 304.68,256.35 305.31,256.35 305.95,256.35 306.59,256.35 307.22,256.35 307.86,256.35 308.49,256.35 309.12,256.35 309.76,256.35 310.40,256.35 311.03,256.35 311.67,256.35 312.30,256.35 312.94,256.35 313.57,256.35 314.20,256.35 314.84,256.35 315.48,256.35 316.11,256.35 316.75,256.35 317.38,256.35 318.01,256.35 318.65,256.35 319.29,256.35 319.92,256.35 320.56,256.35 321.19,256.35 321.82,256.35 322.46,256.35 323.10,256.35 323.73,256.35 324.37,256.35 325.00,256.35 325.63,256.35 326.27,256.35 326.91,256.35 327.54,256.35 328.18,256.35 328.81,256.35 329.44,256.35 330.08,256.35 330.72,256.35 331.35,256.35 331.99,256.35 332.62,256.35 333.25,256.35 333.89,256.35 334.53,256.35 335.16,256.35 335.80,256.35 336.43,256.35 337.06,256.35 337.70,256.35 338.33,256.35 338.97,256.35 339.61,256.35 340.24,256.35 340.88,256.35 341.51,256.35 342.14,256.35 342.78,256.35 343.41,256.35 344.05,256.35 344.69,256.35 345.32,256.35 345.95,256.35 346.59,256.35 347.23,256.35 347.86,256.35 348.50,256.35 349.13,256.35 349.76,256.35 350.40,256.35 351.03,256.35 351.67,256.35 352.31,256.35 352.94,256.35 353.57,256.35 354.21,256.35 354.85,256.35 355.48,256.35 356.12,256.35 356.75,256.35 357.39,256.35 358.02,256.35 358.65,256.35 359.29,256.35 359.93,256.35 360.56,256.35 361.19,256.35 361.83,256.35 362.46,256.35 363.10,256.35 363.74,256.35 364.37,256.35 365.00,256.35 365.64,256.35 366.27,256.35 366.91,256.35 367.54,256.35 368.18,256.35 368.81,256.35 369.45,256.35 370.08,256.35 370.72,256.35 371.36,256.35 371.99,256.35 372.62,256.35 373.26,256.35 373.89,256.35 374.53,256.35 375.16,256.35 375.80,256.35 376.44,256.35 377.07,256.35 377.70,256.35 378.34,256.35 378.98,256.35 379.61,256.35 380.25,256.35 380.88,256.35 381.51,256.35 382.15,256.35 382.78,256.35 383.42,256.35 384.06,256.35 384.69,256.35 385.32,256.35 385.96,256.35 386.60,256.35 387.23,256.35 387.87,256.35 388.50,256.35 389.14,256.35 389.77,256.35 390.40,256.35 391.04,256.35 391.68,256.35 392.31,256.35 392.94,256.35 393.58,256.35 394.21,256.35 394.85,256.35 395.49,256.35 396.12,256.35 396.75,256.35 397.39,256.35 398.02,256.35 398.66,256.35 399.29,256.35 399.93,256.35 400.56,256.35 401.20,256.35 401.83,256.35 402.47,256.35 403.11,256.35 403.74,256.35 404.38,256.35 405.01,256.35 405.64,256.35 406.28,256.35 406.91,256.35 407.55,256.35 408.19,256.35 408.82,256.35 409.45,256.35 410.09,256.35 410.73,256.35 411.36,256.35 412.00,256.35 412.63,256.35 413.26,256.35 413.90,256.35 414.53,256.35 415.17,256.35 415.81,256.35 416.44,256.35 417.07,256.35 417.71,256.35 418.35,256.35 418.98,256.35 419.62,256.35 420.25,256.35 420.89,256.35 421.52,256.35 422.15,256.35 422.79,256.35 423.43,256.35 424.06,256.35 424.69,256.35 425.33,256.35 425.96,256.35 426.60,256.35 427.24,256.35 427.87,256.35 428.50,256.35 429.14,256.35 429.77,256.35 430.41,256.35 431.04,256.35 431.68,256.35 432.31,256.35 432.95,256.35 433.58,256.35 434.22,256.35 434.86,256.35 435.49,256.35 436.12,256.35 436.76,256.35 437.39,256.35 438.03,256.35 438.66,256.35 439.30,256.35 439.94,256.35 440.57,256.35 441.20,256.35 441.84,256.35 442.48,256.35 443.11,256.35 443.75,256.35 444.38,256.35 445.01,256.35 445.65,256.35 446.28,256.35 446.92,256.35 447.56,256.35 448.19,256.35 448.82,256.35 449.46,256.35 450.10,256.35 450.73,256.35 451.37,256.35 452.00,256.35 452.64,256.35 453.27,256.35 453.90,256.35 454.54,256.35 455.18,256.35 455.81,256.35 456.44,256.35 457.08,256.35 457.71,256.35 458.35,256.35 458.99,256.35 459.62,256.35 460.25,256.35 460.89,256.35 461.52,256.35 462.16,256.35 462.79,256.35 463.43,256.35 464.06,256.35 464.70,256.35 465.33,256.35 465.97,256.35 466.61,256.35 467.24,256.35 467.88,256.35 468.51,256.35 469.14,256.35 469.78,256.35 470.41,256.35 471.05,256.35 471.69,256.35 472.32,256.35 472.95,256.35 473.59,256.35 474.23,256.35 474.86,256.35 475.50,256.35 476.13,256.35 476.76,256.35 477.40,256.35 478.03,256.35 478.67,256.35 479.31,256.35 479.94,256.35 480.57,256.35 481.21,256.35 481.85,256.35 482.48,256.35 483.12,256.35 483.75,256.35 484.39,256.35 485.02,256.35 485.65,256.35 486.29,256.35 486.93,256.35 487.56,256.35 488.19,256.35 488.83,256.35 489.47,256.35 490.10,256.35 490.74,256.35 491.37,256.35 492.00,256.35 492.64,256.35 493.27,256.35 493.91,256.35 494.54,256.35 495.18,256.35 495.81,256.35 496.45,256.35 497.08,256.35 497.72,256.35 498.36,256.35 498.99,256.35 499.62,256.35 500.26,256.35 500.89,256.35 501.53,256.35 502.16,256.35 502.80,256.35 503.44,256.35 504.07,256.35 504.70,256.35 505.34,256.35 505.98,256.35 506.61,256.35 507.25,256.35 507.88,256.35 508.51,256.35 509.15,256.35 509.78,256.35 510.42,256.35 511.06,256.35 511.69,256.35 512.33,256.35 512.96,256.35 513.60,256.35 514.23,256.35 514.87,256.35 515.50,256.35 516.14,256.35 516.77,256.35 517.40,256.35 518.04,256.35 518.68,256.35 519.31,256.35 519.95,256.35 520.58,256.35 521.22,256.35 521.85,256.35 522.49,256.35 523.12,256.35 523.75,256.35 524.39,256.35 525.02,256.35 525.66,256.35 526.29,256.35 526.93,256.35 527.57,256.35 528.20,256.35 528.84,256.35 529.47,256.35 530.11,256.35 530.74,256.35 531.38,256.35 532.01,256.35 532.64,256.35 533.28,256.35 533.91,256.35 534.55,256.35 535.19,256.35 535.82,256.35 536.46,256.35 537.09,256.35 537.73,256.35 538.36,256.35 539.00,256.35 539.63,256.35 540.26,256.35 540.90,256.35 541.53,256.35 542.17,256.35 542.81,256.35 543.44,256.35 544.08,256.35 544.71,256.35 545.35,256.35 545.98,256.35 546.62,256.35 547.25,256.35 547.89,256.35 548.52,256.35 549.15,256.35 549.79,256.35 550.43,256.35 551.06,256.35 551.70,256.35 552.33,256.35 552.97,256.35 553.60,256.35 554.24,256.35 554.87,256.35 555.50,256.35 556.14,256.35 556.77,256.35 557.41,256.35 558.04,256.35 558.68,256.35 559.32,256.35 559.95,256.35 560.59,256.35 561.22,256.35 561.86,256.35 562.49,256.35 563.12,256.35 563.76,256.35 564.39,256.35 565.03,256.35 565.66,256.35 566.30,256.35" stroke="#9810F0"/><polyline points="83.70,256.35 84.34,256.21 84.97,256.07 85.61,255.92 86.24,255.78 86.88,255.64 87.51,255.50 88.15,255.36 88.78,255.22 89.42,255.07 90.05,254.93 90.69,254.79 91.32,254.65 91.95,254.51 92.59,254.36 93.23,254.22 93.86,254.08 94.50,253.94 95.13,253.80 95.77,253.65 96.40,253.51 97.03,253.37 97.67,253.23 98.31,253.09 98.94,252.94 99.58,252.80 100.21,252.66 100.84,252.52 101.48,252.37 102.12,252.23 102.75,252.09 103.39,251.94 104.02,251.80 104.66,251.66 105.29,251.52 105.93,251.37 106.56,251.23 107.20,251.09 107.83,250.94 108.47,250.80 109.10,250.66 109.74,250.51 110.37,250.37 111.00,250.22 111.64,250.08 112.28,249.94 112.91,249.79 113.55,249.65 114.18,249.50 114.81,249.36 115.45,249.21 116.09,249.07 116.72,248.92 117.36,248.78 117.99,248.63 118.62,248.49 119.26,248.34 119.90,248.20 120.53,248.05 121.16,247.91 121.80,247.76 122.44,247.62 123.07,247.47 123.71,247.33 124.34,247.18 124.97,247.03 125.61,246.89 126.25,246.74 126.88,246.59 127.52,246.45 128.15,246.30 128.78,246.15 129.42,246.01 130.06,245.86 130.69,245.71 131.32,245.57 131.96,245.42 132.59,245.27 133.23,245.13 133.87,244.98 134.50,244.83 135.13,244.68 135.77,244.54 136.41,244.39 137.04,244.24 137.68,244.09 138.31,243.94 138.94,243.80 139.58,243.65 140.22,243.50 140.85,243.35 141.49,243.20 142.12,243.06 142.75,242.91 143.39,242.76 144.03,242.61 144.66,242.46 145.30,242.31 145.93,242.16 146.56,242.02 147.20,241.87 147.84,241.72 148.47,241.57 149.11,241.42 149.74,241.27 150.38,241.12 151.01,240.97 151.65,240.83 152.28,240.68 152.92,240.53 153.55,240.38 154.19,240.23 154.82,240.08 155.46,239.93 156.09,239.78 156.73,239.64 157.36,239.49 158.00,239.34 158.63,239.19 159.26,239.04 159.90,238.89 160.53,238.75 161.17,238.60 161.81,238.45 162.44,238.30 163.07,238.15 163.71,238.01 164.34,237.86 164.98,237.71 165.62,237.56 166.25,237.42 166.88,237.27 167.52,237.12 168.16,236.97 168.79,236.83 169.43,236.68 170.06,236.53 170.69,236.39 171.33,236.24 171.97,236.10 172.60,235.95 173.24,235.81 173.87,235.66 174.50,235.52 175.14,235.37 175.78,235.23 176.41,235.08 177.05,234.94 177.68,234.79 178.31,234.65 178.95,234.51 179.59,234.36 180.22,234.22 180.86,234.08 181.49,233.94 182.12,233.79 182.76,233.65 183.40,233.51 184.03,233.37 184.67,233.23 185.30,233.09 185.94,232.95 186.57,232.81 187.21,232.67 187.84,232.53 188.48,232.40 189.11,232.26 189.75,232.12 190.38,231.98 191.01,231.85 191.65,231.71 192.28,231.58 192.92,231.44 193.56,231.31 194.19,231.17 194.82,231.04 195.46,230.90 196.09,230.77 196.73,230.64 197.37,230.51 198.00,230.38 198.63,230.25 199.27,230.12 199.91,229.99 200.54,229.86 201.18,229.73 201.81,229.60 202.44,229.47 203.08,229.35 203.72,229.22 204.35,229.10 204.99,228.97 205.62,228.85 206.25,228.73 206.89,228.60 207.53,228.48 208.16,228.36 208.80,228.24 209.43,228.12 210.06,228.00 210.70,227.88 211.34,227.76 211.97,227.65 212.61,227.53 213.24,227.41 213.88,227.30 214.51,227.18 215.14,227.07 215.78,226.96 216.42,226.85 217.05,226.74 217.69,226.63 218.32,226.52 218.95,226.41 219.59,226.30 220.23,226.19 220.86,226.09 221.50,225.98 222.13,225.88 222.76,225.78 223.40,225.67 224.04,225.57 224.67,225.47 225.31,225.37 225.94,225.27 226.57,225.18 227.21,225.08 227.85,224.98 228.48,224.89 229.12,224.79 229.75,224.70 230.38,224.61 231.02,224.52 231.66,224.43 232.29,224.34 232.93,224.25 233.56,224.16 234.19,224.08 234.83,223.99 235.47,223.91 236.10,223.83 236.74,223.74 237.37,223.66 238.00,223.58 238.64,223.50 239.28,223.43 239.91,223.35 240.55,223.27 241.18,223.20 241.81,223.13 242.45,223.06 243.09,222.98 243.72,222.91 244.36,222.85 244.99,222.78 245.62,222.71 246.26,222.65 246.89,222.58 247.53,222.52 248.17,222.46 248.80,222.40 249.44,222.34 250.07,222.28 250.70,222.22 251.34,222.16 251.98,222.11 252.61,222.06 253.25,222.00 253.88,221.95 254.51,221.90 255.15,221.85 255.79,221.80 256.42,221.76 257.06,221.71 257.69,221.67 258.32,221.63 258.96,221.58 259.60,221.54 260.23,221.50 260.87,221.47 261.50,221.43 262.13,221.39 262.77,221.36 263.41,221.33 264.04,221.30 264.68,221.27 265.31,221.24 265.94,221.21 266.58,221.18 267.22,221.16 267.85,221.13 268.49,221.11 269.12,221.09 269.75,221.07 270.39,221.05 271.03,221.03 271.66,221.01 272.30,221.00 272.93,220.98 273.56,220.97 274.20,220.96 274.84,220.95 275.47,220.94 276.11,220.93 276.74,220.92 277.38,220.92 278.01,220.91 278.65,220.91 279.28,220.91 279.92,220.91 280.55,220.91 281.19,220.91 281.82,220.92 282.45,220.92 283.09,220.93 283.73,220.93 284.36,220.94 285.00,220.95 285.63,220.96 286.26,220.98 286.90,220.99 287.54,221.00 288.17,221.02 288.81,221.04 289.44,221.05 290.07,221.07 290.71,221.10 291.35,221.12 291.98,221.14 292.62,221.17 293.25,221.19 293.88,221.22 294.52,221.25 295.16,221.27 295.79,221.31 296.43,221.34 297.06,221.37 297.69,221.40 298.33,221.44 298.97,221.48 299.60,221.51 300.24,221.55 300.87,221.59 301.50,221.63 302.14,221.67 302.78,221.72 303.41,221.76 304.05,221.81 304.68,221.85 305.31,221.90 305.95,221.95 306.59,222.00 307.22,222.05 307.86,222.10 308.49,222.16 309.12,222.21 309.76,222.27 310.40,222.32 311.03,222.38 311.67,222.44 312.30,222.50 312.94,222.56 313.57,222.62 314.20,222.69 314.84,222.75 315.48,222.81 316.11,222.88 316.75,222.95 317.38,223.02 318.01,223.08 318.65,223.15 319.29,223.22 319.92,223.30 320.56,223.37 321.19,223.44 321.82,223.52 322.46,223.59 323.10,223.67 323.73,223.75 324.37,223.83 325.00,223.90 325.63,223.99 326.27,224.07 326.91,224.15 327.54,224.23 328.18,224.31 328.81,224.40 329.44,224.48 330.08,224.57 330.72,224.66 331.35,224.75 331.99,224.83 332.62,224.92 333.25,225.01 333.89,225.10 334.53,225.20 335.16,225.29 335.80,225.38 336.43,225.48 337.06,225.57 337.70,225.67 338.33,225.76 338.97,225.86 339.61,225.96 340.24,226.06 340.88,226.16 341.51,226.25 342.14,226.36 342.78,226.46 343.41,226.56 344.05,226.66 344.69,226.76 345.32,226.87 345.95,226.97 346.59,227.08 347.23,227.18 347.86,227.29 348.50,227.39 349.13,227.50 349.76,227.61 350.40,227.72 351.03,227.82 351.67,227.93 352.31,228.04 352.94,228.15 353.57,228.26 354.21,228.38 354.85,228.49 355.48,228.60 356.12,228.71 356.75,228.82 357.39,228.94 358.02,229.05 358.65,229.17 359.29,229.28 359.93,229.40 360.56,229.51 361.19,229.63 361.83,229.74 362.46,229.86 363.10,229.98 363.74,230.09 364.37,230.21 365.00,230.33 365.64,230.45 366.27,230.57 366.91,230.68 367.54,230.80 368.18,230.92 368.81,231.04 369.45,231.16 370.08,231.28 370.72,231.40 371.36,231.52 371.99,231.64 372.62,231.76 373.26,231.89 373.89,232.01 374.53,232.13 375.16,232.25 375.80,232.37 376.44,232.49 377.07,232.62 377.70,232.74 378.34,232.86 378.98,232.98 379.61,233.11 380.25,233.23 380.88,233.35 381.51,233.47 382.15,233.60 382.78,233.72 383.42,233.84 384.06,233.97 384.69,234.09 385.32,234.21 385.96,234.34 386.60,234.46 387.23,234.58 387.87,234.71 388.50,234.83 389.14,234.95 389.77,235.07 390.40,235.20 391.04,235.32 391.68,235.44 392.31,235.57 392.94,235.69 393.58,235.81 394.21,235.94 394.85,236.06 395.49,236.18 396.12,236.30 396.75,236.42 397.39,236.55 398.02,236.67 398.66,236.79 399.29,236.91 399.93,237.03 400.56,237.16 401.20,237.28 401.83,237.40 402.47,237.52 403.11,237.64 403.74,237.76 404.38,237.88 405.01,238.00 405.64,238.12 406.28,238.24 406.91,238.36 407.55,238.48 408.19,238.60 408.82,238.72 409.45,238.84 410.09,238.95 410.73,239.07 411.36,239.19 412.00,239.31 412.63,239.43 413.26,239.54 413.90,239.66 414.53,239.78 415.17,239.89 415.81,240.01 416.44,240.12 417.07,240.24 417.71,240.35 418.35,240.47 418.98,240.58 419.62,240.70 420.25,240.81 420.89,240.92 421.52,241.04 422.15,241.15 422.79,241.26 423.43,241.37 424.06,241.48 424.69,241.59 425.33,241.70 425.96,241.82 426.60,241.92 427.24,242.03 427.87,242.14 428.50,242.25 429.14,242.36 429.77,242.47 430.41,242.58 431.04,242.68 431.68,242.79 432.31,242.90 432.95,243.00 433.58,243.11 434.22,243.21 434.86,243.32 435.49,243.42 436.12,243.52 436.76,243.63 437.39,243.73 438.03,243.83 438.66,243.94 439.30,244.04 439.94,244.14 440.57,244.24 441.20,244.34 441.84,244.44 442.48,244.54 443.11,244.64 443.75,244.73 444.38,244.83 445.01,244.93 445.65,245.03 446.28,245.12 446.92,245.22 447.56,245.31 448.19,245.41 448.82,245.50 449.46,245.60 450.10,245.69 450.73,245.78 451.37,245.88 452.00,245.97 452.64,246.06 453.27,246.15 453.90,246.24 454.54,246.33 455.18,246.42 455.81,246.51 456.44,246.60 457.08,246.69 457.71,246.77 458.35,246.86 458.99,246.95 459.62,247.03 460.25,247.12 460.89,247.20 461.52,247.29 462.16,247.37 462.79,247.45 463.43,247.54 464.06,247.62 464.70,247.70 465.33,247.78 465.97,247.86 466.61,247.94 467.24,248.02 467.88,248.10 468.51,248.18 469.14,248.26 469.78,248.34 470.41,248.42 471.05,248.49 471.69,248.57 472.32,248.65 472.95,248.72 473.59,248.80 474.23,248.87 474.86,248.94 475.50,249.02 476.13,249.09 476.76,249.16 477.40,249.23 478.03,249.30 478.67,249.38 479.31,249.45 479.94,249.52 480.57,249.58 481.21,249.65 481.85,249.72 482.48,249.79 483.12,249.86 483.75,249.92 484.39,249.99 485.02,250.06 485.65,250.12 486.29,250.19 486.93,250.25 487.56,250.31 488.19,250.38 488.83,250.44 489.47,250.50 490.10,250.56 490.74,250.63 491.37,250.69 492.00,250.75 492.64,250.81 493.27,250.87 493.91,250.92 494.54,250.98 495.18,251.04 495.81,251.10 496.45,251.16 497.08,251.21 497.72,251.27 498.36,251.32 498.99,251.38 499.62,251.43 500.26,251.49 500.89,251.54 501.53,251.60 502.16,251.65 502.80,251.70 503.44,251.75 504.07,251.80 504.70,251.86 505.34,251.91 505.98,251.96 506.61,252.01 507.25,252.06 507.88,252.11 508.51,252.15 509.15,252.20 509.78,252.25 510.42,252.30 511.06,252.34 511.69,252.39 512.33,252.44 512.96,252.48 513.60,252.53 514.23,252.57 514.87,252.62 515.50,252.66 516.14,252.70 516.77,252.75 517.40,252.79 518.04,252.83 518.68,252.87 519.31,252.91 519.95,252.96 520.58,253.00 521.22,253.04 521.85,253.08 522.49,253.12 523.12,253.15 523.75,253.19 524.39,253.23 525.02,253.27 525.66,253.31 526.29,253.34 526.93,253.38 527.57,253.42 528.20,253.45 528.84,253.49 529.47,253.53 530.11,253.56 530.74,253.60 531.38,253.63 532.01,253.66 532.64,253.70 533.28,253.73 533.91,253.76 534.55,253.80 535.19,253.83 535.82,253.86 536.46,253.89 537.09,253.92 537.73,253.95 538.36,253.99 539.00,254.02 539.63,254.05 540.26,254.08 540.90,254.10 541.53,254.13 542.17,254.16 542.81,254.19 543.44,254.22 544.08,254.25 544.71,254.27 545.35,254.30 545.98,254.33 546.62,254.36 547.25,254.38 547.89,254.41 548.52,254.43 549.15,254.46 549.79,254.48 550.43,254.51 551.06,254.53 551.70,254.56 552.33,254.58 552.97,254.61 553.60,254.63 554.24,254.65 554.87,254.68 555.50,254.70 556.14,254.72 556.77,254.74 557.41,254.76 558.04,254.79 558.68,254.81 559.32,254.83 559.95,254.85 560.59,254.87 561.22,254.89 561.86,254.91 562.49,254.93 563.12,254.95 563.76,254.97 564.39,254.99 565.03,255.01 565.66,255.03 566.30,255.05" stroke="#FFA500"/><polyline points="83.70,256.35 84.34,256.31 84.97,256.27 85.61,256.22 86.24,256.18 86.88,256.14 87.51,256.10 88.15,256.06 88.78,256.01 89.42,255.97 90.05,255.93 90.69,255.89 91.32,255.85 91.95,255.80 92.59,255.76 93.23,255.72 93.86,255.68 94.50,255.64 95.13,255.59 95.77,255.55 96.40,255.51 97.03,255.47 97.67,255.42 98.31,255.38 98.94,255.34 99.58,255.30 100.21,255.25 100.84,255.21 101.48,255.17 102.12,255.13 102.75,255.08 103.39,255.04 104.02,255.00 104.66,254.96 105.29,254.91 105.93,254.87 106.56,254.83 107.20,254.78 107.83,254.74 108.47,254.70 109.10,254.65 109.74,254.61 110.37,254.57 111.00,254.52 111.64,254.48 112.28,254.44 112.91,254.39 113.55,254.35 114.18,254.30 114.81,254.26 115.45,254.22 116.09,254.17 116.72,254.13 117.36,254.08 117.99,254.04 118.62,253.99 119.26,253.95 119.90,253.90 120.53,253.86 121.16,253.81 121.80,253.77 122.44,253.72 123.07,253.68 123.71,253.63 124.34,253.59 124.97,253.54 125.61,253.50 126.25,253.45 126.88,253.40 127.52,253.36 128.15,253.31 128.78,253.26 129.42,253.22 130.06,253.17 130.69,253.12 131.32,253.08 131.96,253.03 132.59,252.98 133.23,252.94 133.87,252.89 134.50,252.84 135.13,252.79 135.77,252.75 136.41,252.70 137.04,252.65 137.68,252.60 138.31,252.55 138.94,252.50 139.58,252.46 140.22,252.41 140.85,252.36 141.49,252.31 142.12,252.26 142.75,252.21 143.39,252.16 144.03,252.11 144.66,252.06 145.30,252.01 145.93,251.96 146.56,251.91 147.20,251.86 147.84,251.81 148.47,251.76 149.11,251.71 149.74,251.66 150.38,251.60 151.01,251.55 151.65,251.50 152.28,251.45 152.92,251.40 153.55,251.34 154.19,251.29 154.82,251.24 155.46,251.19 156.09,251.13 156.73,251.08 157.36,251.03 158.00,250.97 158.63,250.92 159.26,250.87 159.90,250.81 160.53,250.76 161.17,250.70 161.81,250.65 162.44,250.60 163.07,250.54 163.71,250.49 164.34,250.43 164.98,250.37 165.62,250.32 166.25,250.26 166.88,250.21 167.52,250.15 168.16,250.09 168.79,250.04 169.43,249.98 170.06,249.92 170.69,249.87 171.33,249.81 171.97,249.75 172.60,249.69 173.24,249.64 173.87,249.58 174.50,249.52 175.14,249.46 175.78,249.40 176.41,249.34 177.05,249.28 177.68,249.23 178.31,249.17 178.95,249.11 179.59,249.05 180.22,248.99 180.86,248.93 181.49,248.87 182.12,248.80 182.76,248.74 183.40,248.68 184.03,248.62 184.67,248.56 185.30,248.50 185.94,248.44 186.57,248.37 187.21,248.31 187.84,248.25 188.48,248.19 189.11,248.12 189.75,248.06 190.38,248.00 191.01,247.93 191.65,247.87 192.28,247.81 192.92,247.74 193.56,247.68 194.19,247.61 194.82,247.55 195.46,247.49 196.09,247.42 196.73,247.36 197.37,247.29 198.00,247.22 198.63,247.16 199.27,247.09 199.91,247.03 200.54,246.96 201.18,246.89 201.81,246.83 202.44,246.76 203.08,246.69 203.72,246.63 204.35,246.56 204.99,246.49 205.62,246.42 206.25,246.36 206.89,246.29 207.53,246.22 208.16,246.15 208.80,246.08 209.43,246.01 210.06,245.95 210.70,245.88 211.34,245.81 211.97,245.74 212.61,245.67 213.24,245.60 213.88,245.53 214.51,245.46 215.14,245.39 215.78,245.32 216.42,245.25 217.05,245.18 217.69,245.10 218.32,245.03 218.95,244.96 219.59,244.89 220.23,244.82 220.86,244.75 221.50,244.68 222.13,244.60 222.76,244.53 223.40,244.46 224.04,244.39 224.67,244.31 225.31,244.24 225.94,244.17 226.57,244.10 227.21,244.02 227.85,243.95 228.48,243.88 229.12,243.80 229.75,243.73 230.38,243.66 231.02,243.58 231.66,243.51 232.29,243.43 232.93,243.36 233.56,243.29 234.19,243.21 234.83,243.14 235.47,243.06 236.10,242.99 236.74,242.91 237.37,242.84 238.00,242.76 238.64,242.69 239.28,242.61 239.91,242.54 240.55,242.46 241.18,242.39 241.81,242.31 242.45,242.23 243.09,242.16 243.72,242.08 244.36,242.01 244.99,241.93 245.62,241.86 246.26,241.78 246.89,241.70 247.53,241.63 248.17,241.55 248.80,241.47 249.44,241.40 250.07,241.32 250.70,241.25 251.34,241.17 251.98,241.09 252.61,241.02 253.25,240.94 253.88,240.86 254.51,240.79 255.15,240.71 255.79,240.63 256.42,240.56 257.06,240.48 257.69,240.40 258.32,240.33 258.96,240.25 259.60,240.17 260.23,240.10 260.87,240.02 261.50,239.94 262.13,239.87 262.77,239.79 263.41,239.71 264.04,239.64 264.68,239.56 265.31,239.48 265.94,239.41 266.58,239.33 267.22,239.25 267.85,239.18 268.49,239.10 269.12,239.03 269.75,238.95 270.39,238.87 271.03,238.80 271.66,238.72 272.30,238.64 272.93,238.57 273.56,238.49 274.20,238.42 274.84,238.34 275.47,238.27 276.11,238.19 276.74,238.11 277.38,238.04 278.01,237.96 278.65,237.89 279.28,237.81 279.92,237.74 280.55,237.66 281.19,237.59 281.82,237.51 282.45,237.44 283.09,237.37 283.73,237.29 284.36,237.22 285.00,237.14 285.63,237.07 286.26,237.00 286.90,236.92 287.54,236.85 288.17,236.78 288.81,236.70 289.44,236.63 290.07,236.56 290.71,236.49 291.35,236.41 291.98,236.34 292.62,236.27 293.25,236.20 293.88,236.13 294.52,236.05 295.16,235.98 295.79,235.91 296.43,235.84 297.06,235.77 297.69,235.70 298.33,235.63 298.97,235.56 299.60,235.49 300.24,235.42 300.87,235.35 301.50,235.28 302.14,235.21 302.78,235.15 303.41,235.08 304.05,235.01 304.68,234.94 305.31,234.87 305.95,234.81 306.59,234.74 307.22,234.67 307.86,234.61 308.49,234.54 309.12,234.48 309.76,234.41 310.40,234.34 311.03,234.28 311.67,234.22 312.30,234.15 312.94,234.09 313.57,234.02 314.20,233.96 314.84,233.90 315.48,233.83 316.11,233.77 316.75,233.71 317.38,233.65 318.01,233.59 318.65,233.53 319.29,233.46 319.92,233.40 320.56,233.34 321.19,233.28 321.82,233.23 322.46,233.17 323.10,233.11 323.73,233.05 324.37,232.99 325.00,232.93 325.63,232.88 326.27,232.82 326.91,232.76 327.54,232.71 328.18,232.65 328.81,232.60 329.44,232.54 330.08,232.49 330.72,232.43 331.35,232.38 331.99,232.33 332.62,232.27 333.25,232.22 333.89,232.17 334.53,232.12 335.16,232.07 335.80,232.02 336.43,231.97 337.06,231.92 337.70,231.87 338.33,231.82 338.97,231.77 339.61,231.72 340.24,231.68 340.88,231.63 341.51,231.58 342.14,231.54 342.78,231.49 343.41,231.45 344.05,231.40 344.69,231.36 345.32,231.31 345.95,231.27 346.59,231.23 347.23,231.18 347.86,231.14 348.50,231.10 349.13,231.06 349.76,231.02 350.40,230.98 351.03,230.94 351.67,230.90 352.31,230.86 352.94,230.83 353.57,230.79 354.21,230.75 354.85,230.72 355.48,230.68 356.12,230.65 356.75,230.61 357.39,230.58 358.02,230.54 358.65,230.51 359.29,230.48 359.93,230.45 360.56,230.41 361.19,230.38 361.83,230.35 362.46,230.32 363.10,230.29 363.74,230.26 364.37,230.24 365.00,230.21 365.64,230.18 366.27,230.15 366.91,230.13 367.54,230.10 368.18,230.08 368.81,230.05 369.45,230.03 370.08,230.01 370.72,229.98 371.36,229.96 371.99,229.94 372.62,229.92 373.26,229.90 373.89,229.88 374.53,229.86 375.16,229.84 375.80,229.82 376.44,229.80 377.07,229.79 377.70,229.77 378.34,229.75 378.98,229.74 379.61,229.72 380.25,229.71 380.88,229.70 381.51,229.68 382.15,229.67 382.78,229.66 383.42,229.65 384.06,229.64 384.69,229.63 385.32,229.62 385.96,229.61 386.60,229.60 387.23,229.59 387.87,229.59 388.50,229.58 389.14,229.57 389.77,229.57 390.40,229.56 391.04,229.56 391.68,229.56 392.31,229.55 392.94,229.55 393.58,229.55 394.21,229.55 394.85,229.55 395.49,229.55 396.12,229.55 396.75,229.55 397.39,229.55 398.02,229.55 398.66,229.55 399.29,229.56 399.93,229.56 400.56,229.57 401.20,229.57 401.83,229.58 402.47,229.58 403.11,229.59 403.74,229.60 404.38,229.61 405.01,229.62 405.64,229.62 406.28,229.63 406.91,229.64 407.55,229.66 408.19,229.67 408.82,229.68 409.45,229.69 410.09,229.71 410.73,229.72 411.36,229.73 412.00,229.75 412.63,229.76 413.26,229.78 413.90,229.80 414.53,229.81 415.17,229.83 415.81,229.85 416.44,229.87 417.07,229.89 417.71,229.91 418.35,229.93 418.98,229.95 419.62,229.97 420.25,230.00 420.89,230.02 421.52,230.04 422.15,230.07 422.79,230.09 423.43,230.12 424.06,230.14 424.69,230.17 425.33,230.19 425.96,230.22 426.60,230.25 427.24,230.28 427.87,230.31 428.50,230.34 429.14,230.37 429.77,230.40 430.41,230.43 431.04,230.46 431.68,230.49 432.31,230.52 432.95,230.56 433.58,230.59 434.22,230.62 434.86,230.66 435.49,230.69 436.12,230.73 436.76,230.77 437.39,230.80 438.03,230.84 438.66,230.88 439.30,230.91 439.94,230.95 440.57,230.99 441.20,231.03 441.84,231.07 442.48,231.11 443.11,231.15 443.75,231.19 444.38,231.24 445.01,231.28 445.65,231.32 446.28,231.37 446.92,231.41 447.56,231.45 448.19,231.50 448.82,231.54 449.46,231.59 450.10,231.64 450.73,231.68 451.37,231.73 452.00,231.78 452.64,231.82 453.27,231.87 453.90,231.92 454.54,231.97 455.18,232.02 455.81,232.07 456.44,232.12 457.08,232.17 457.71,232.22 458.35,232.27 458.99,232.32 459.62,232.38 460.25,232.43 460.89,232.48 461.52,232.54 462.16,232.59 462.79,232.64 463.43,232.70 464.06,232.75 464.70,232.81 465.33,232.87 465.97,232.92 466.61,232.98 467.24,233.04 467.88,233.09 468.51,233.15 469.14,233.21 469.78,233.27 470.41,233.33 471.05,233.38 471.69,233.44 472.32,233.50 472.95,233.56 473.59,233.62 474.23,233.68 474.86,233.74 475.50,233.81 476.13,233.87 476.76,233.93 477.40,233.99 478.03,234.05 478.67,234.12 479.31,234.18 479.94,234.24 480.57,234.31 481.21,234.37 481.85,234.43 482.48,234.50 483.12,234.56 483.75,234.63 484.39,234.69 485.02,234.76 485.65,234.82 486.29,234.89 486.93,234.96 487.56,235.02 488.19,235.09 488.83,235.16 489.47,235.22 490.10,235.29 490.74,235.36 491.37,235.43 492.00,235.50 492.64,235.56 493.27,235.63 493.91,235.70 494.54,235.77 495.18,235.84 495.81,235.91 496.45,235.98 497.08,236.05 497.72,236.12 498.36,236.19 498.99,236.26 499.62,236.33 500.26,236.40 500.89,236.47 501.53,236.54 502.16,236.61 502.80,236.68 503.44,236.75 504.07,236.82 504.70,236.90 505.34,236.97 505.98,237.04 506.61,237.11 507.25,237.18 507.88,237.26 508.51,237.33 509.15,237.40 509.78,237.47 510.42,237.55 511.06,237.62 511.69,237.69 512.33,237.77 512.96,237.84 513.60,237.91 514.23,237.99 514.87,238.06 515.50,238.13 516.14,238.21 516.77,238.28 517.40,238.35 518.04,238.43 518.68,238.50 519.31,238.57 519.95,238.65 520.58,238.72 521.22,238.80 521.85,238.87 522.49,238.95 523.12,239.02 523.75,239.09 524.39,239.17 525.02,239.24 525.66,239.32 526.29,239.39 526.93,239.47 527.57,239.54 528.20,239.61 528.84,239.69 529.47,239.76 530.11,239.84 530.74,239.91 531.38,239.99 532.01,240.06 532.64,240.14 533.28,240.21 533.91,240.28 534.55,240.36 535.19,240.43 535.82,240.51 536.46,240.58 537.09,240.66 537.73,240.73 538.36,240.80 539.00,240.88 539.63,240.95 540.26,241.03 540.90,241.10 541.53,241.18 542.17,241.25 542.81,241.32 543.44,241.40 544.08,241.47 544.71,241.54 545.35,241.62 545.98,241.69 546.62,241.77 547.25,241.84 547.89,241.91 548.52,241.99 549.15,242.06 549.79,242.13 550.43,242.20 551.06,242.28 551.70,242.35 552.33,242.42 552.97,242.50 553.60,242.57 554.24,242.64 554.87,242.71 555.50,242.79 556.14,242.86 556.77,242.93 557.41,243.00 558.04,243.07 558.68,243.14 559.32,243.22 559.95,243.29 560.59,243.36 561.22,243.43 561.86,243.50 562.49,243.57 563.12,243.64 563.76,243.71 564.39,243.78 565.03,243.85 565.66,243.92 566.30,243.99" stroke="#A3141C"/><polyline points="83.70,256.35 84.34,256.33 84.97,256.32 85.61,256.30 86.24,256.29 86.88,256.27 87.51,256.26 88.15,256.24 88.78,256.22 89.42,256.21 90.05,256.19 90.69,256.18 91.32,256.16 91.95,256.15 92.59,256.13 93.23,256.11 93.86,256.10 94.50,256.08 95.13,256.07 95.77,256.05 96.40,256.04 97.03,256.02 97.67,256.00 98.31,255.99 98.94,255.97 99.58,255.96 100.21,255.94 100.84,255.92 101.48,255.91 102.12,255.89 102.75,255.88 103.39,255.86 104.02,255.85 104.66,255.83 105.29,255.81 105.93,255.80 106.56,255.78 107.20,255.77 107.83,255.75 108.47,255.74 109.10,255.72 109.74,255.70 110.37,255.69 111.00,255.67 111.64,255.66 112.28,255.64 112.91,255.63 113.55,255.61 114.18,255.59 114.81,255.58 115.45,255.56 116.09,255.55 116.72,255.53 117.36,255.51 117.99,255.50 118.62,255.48 119.26,255.47 119.90,255.45 120.53,255.44 121.16,255.42 121.80,255.40 122.44,255.39 123.07,255.37 123.71,255.36 124.34,255.34 124.97,255.32 125.61,255.31 126.25,255.29 126.88,255.28 127.52,255.26 128.15,255.25 128.78,255.23 129.42,255.21 130.06,255.20 130.69,255.18 131.32,255.17 131.96,255.15 132.59,255.13 133.23,255.12 133.87,255.10 134.50,255.09 135.13,255.07 135.77,255.05 136.41,255.04 137.04,255.02 137.68,255.00 138.31,254.99 138.94,254.97 139.58,254.96 140.22,254.94 140.85,254.92 141.49,254.91 142.12,254.89 142.75,254.87 143.39,254.86 144.03,254.84 144.66,254.83 145.30,254.81 145.93,254.79 146.56,254.78 147.20,254.76 147.84,254.74 148.47,254.73 149.11,254.71 149.74,254.69 150.38,254.68 151.01,254.66 151.65,254.64 152.28,254.63 152.92,254.61 153.55,254.59 154.19,254.58 154.82,254.56 155.46,254.54 156.09,254.52 156.73,254.51 157.36,254.49 158.00,254.47 158.63,254.46 159.26,254.44 159.90,254.42 160.53,254.40 161.17,254.39 161.81,254.37 162.44,254.35 163.07,254.33 163.71,254.32 164.34,254.30 164.98,254.28 165.62,254.26 166.25,254.25 166.88,254.23 167.52,254.21 168.16,254.19 168.79,254.17 169.43,254.16 170.06,254.14 170.69,254.12 171.33,254.10 171.97,254.08 172.60,254.06 173.24,254.05 173.87,254.03 174.50,254.01 175.14,253.99 175.78,253.97 176.41,253.95 177.05,253.93 177.68,253.91 178.31,253.89 178.95,253.88 179.59,253.86 180.22,253.84 180.86,253.82 181.49,253.80 182.12,253.78 182.76,253.76 183.40,253.74 184.03,253.72 184.67,253.70 185.30,253.68 185.94,253.66 186.57,253.64 187.21,253.62 187.84,253.60 188.48,253.57 189.11,253.55 189.75,253.53 190.38,253.51 191.01,253.49 191.65,253.47 192.28,253.45 192.92,253.43 193.56,253.40 194.19,253.38 194.82,253.36 195.46,253.34 196.09,253.32 196.73,253.29 197.37,253.27 198.00,253.25 198.63,253.23 199.27,253.20 199.91,253.18 200.54,253.16 201.18,253.14 201.81,253.11 202.44,253.09 203.08,253.07 203.72,253.04 204.35,253.02 204.99,252.99 205.62,252.97 206.25,252.94 206.89,252.92 207.53,252.90 208.16,252.87 208.80,252.85 209.43,252.82 210.06,252.80 210.70,252.77 211.34,252.74 211.97,252.72 212.61,252.69 213.24,252.67 213.88,252.64 214.51,252.61 215.14,252.59 215.78,252.56 216.42,252.53 217.05,252.51 217.69,252.48 218.32,252.45 218.95,252.42 219.59,252.40 220.23,252.37 220.86,252.34 221.50,252.31 222.13,252.28 222.76,252.25 223.40,252.23 224.04,252.20 224.67,252.17 225.31,252.14 225.94,252.11 226.57,252.08 227.21,252.05 227.85,252.02 228.48,251.99 229.12,251.96 229.75,251.93 230.38,251.89 231.02,251.86 231.66,251.83 232.29,251.80 232.93,251.77 233.56,251.74 234.19,251.70 234.83,251.67 235.47,251.64 236.10,251.60 236.74,251.57 237.37,251.54 238.00,251.50 238.64,251.47 239.28,251.44 239.91,251.40 240.55,251.37 241.18,251.33 241.81,251.30 242.45,251.26 243.09,251.23 243.72,251.19 244.36,251.15 244.99,251.12 245.62,251.08 246.26,251.04 246.89,251.01 247.53,250.97 248.17,250.93 248.80,250.90 249.44,250.86 250.07,250.82 250.70,250.78 251.34,250.74 251.98,250.70 252.61,250.66 253.25,250.63 253.88,250.59 254.51,250.55 255.15,250.51 255.79,250.47 256.42,250.43 257.06,250.38 257.69,250.34 258.32,250.30 258.96,250.26 259.60,250.22 260.23,250.18 260.87,250.13 261.50,250.09 262.13,250.05 262.77,250.01 263.41,249.96 264.04,249.92 264.68,249.88 265.31,249.83 265.94,249.79 266.58,249.74 267.22,249.70 267.85,249.65 268.49,249.61 269.12,249.56 269.75,249.52 270.39,249.47 271.03,249.42 271.66,249.38 272.30,249.33 272.93,249.28 273.56,249.24 274.20,249.19 274.84,249.14 275.47,249.09 276.11,249.04 276.74,248.99 277.38,248.95 278.01,248.90 278.65,248.85 279.28,248.80 279.92,248.75 280.55,248.70 281.19,248.65 281.82,248.60 282.45,248.55 283.09,248.49 283.73,248.44 284.36,248.39 285.00,248.34 285.63,248.29 286.26,248.23 286.90,248.18 287.54,248.13 288.17,248.08 288.81,248.02 289.44,247.97 290.07,247.92 290.71,247.86 291.35,247.81 291.98,247.75 292.62,247.70 293.25,247.64 293.88,247.59 294.52,247.53 295.16,247.48 295.79,247.42 296.43,247.36 297.06,247.31 297.69,247.25 298.33,247.19 298.97,247.14 299.60,247.08 300.24,247.02 300.87,246.96 301.50,246.90 302.14,246.85 302.78,246.79 303.41,246.73 304.05,246.67 304.68,246.61 305.31,246.55 305.95,246.49 306.59,246.43 307.22,246.37 307.86,246.31 308.49,246.25 309.12,246.19 309.76,246.13 310.40,246.07 311.03,246.01 311.67,245.95 312.30,245.88 312.94,245.82 313.57,245.76 314.20,245.70 314.84,245.64 315.48,245.57 316.11,245.51 316.75,245.45 317.38,245.38 318.01,245.32 318.65,245.26 319.29,245.19 319.92,245.13 320.56,245.06 321.19,245.00 321.82,244.94 322.46,244.87 323.10,244.81 323.73,244.74 324.37,244.68 325.00,244.61 325.63,244.55 326.27,244.48 326.91,244.41 327.54,244.35 328.18,244.28 328.81,244.22 329.44,244.15 330.08,244.08 330.72,244.02 331.35,243.95 331.99,243.88 332.62,243.82 333.25,243.75 333.89,243.68 334.53,243.61 335.16,243.55 335.80,243.48 336.43,243.41 337.06,243.34 337.70,243.28 338.33,243.21 338.97,243.14 339.61,243.07 340.24,243.00 340.88,242.94 341.51,242.87 342.14,242.80 342.78,242.73 343.41,242.66 344.05,242.59 344.69,242.52 345.32,242.46 345.95,242.39 346.59,242.32 347.23,242.25 347.86,242.18 348.50,242.11 349.13,242.04 349.76,241.97 350.40,241.90 351.03,241.83 351.67,241.76 352.31,241.69 352.94,241.62 353.57,241.55 354.21,241.49 354.85,241.42 355.48,241.35 356.12,241.28 356.75,241.21 357.39,241.14 358.02,241.07 358.65,241.00 359.29,240.93 359.93,240.86 360.56,240.79 361.19,240.72 361.83,240.65 362.46,240.58 363.10,240.51 363.74,240.44 364.37,240.37 365.00,240.30 365.64,240.23 366.27,240.16 366.91,240.09 367.54,240.03 368.18,239.96 368.81,239.89 369.45,239.82 370.08,239.75 370.72,239.68 371.36,239.61 371.99,239.54 372.62,239.47 373.26,239.40 373.89,239.34 374.53,239.27 375.16,239.20 375.80,239.13 376.44,239.06 377.07,238.99 377.70,238.93 378.34,238.86 378.98,238.79 379.61,238.72 380.25,238.65 380.88,238.59 381.51,238.52 382.15,238.45 382.78,238.39 383.42,238.32 384.06,238.25 384.69,238.19 385.32,238.12 385.96,238.05 386.60,237.99 387.23,237.92 387.87,237.85 388.50,237.79 389.14,237.72 389.77,237.66 390.40,237.59 391.04,237.53 391.68,237.46 392.31,237.40 392.94,237.33 393.58,237.27 394.21,237.21 394.85,237.14 395.49,237.08 396.12,237.01 396.75,236.95 397.39,236.89 398.02,236.83 398.66,236.76 399.29,236.70 399.93,236.64 400.56,236.58 401.20,236.51 401.83,236.45 402.47,236.39 403.11,236.33 403.74,236.27 404.38,236.21 405.01,236.15 405.64,236.09 406.28,236.03 406.91,235.97 407.55,235.91 408.19,235.85 408.82,235.79 409.45,235.74 410.09,235.68 410.73,235.62 411.36,235.56 412.00,235.51 412.63,235.45 413.26,235.39 413.90,235.34 414.53,235.28 415.17,235.22 415.81,235.17 416.44,235.11 417.07,235.06 417.71,235.00 418.35,234.95 418.98,234.90 419.62,234.84 420.25,234.79 420.89,234.74 421.52,234.69 422.15,234.63 422.79,234.58 423.43,234.53 424.06,234.48 424.69,234.43 425.33,234.38 425.96,234.33 426.60,234.28 427.24,234.23 427.87,234.18 428.50,234.13 429.14,234.08 429.77,234.04 430.41,233.99 431.04,233.94 431.68,233.90 432.31,233.85 432.95,233.80 433.58,233.76 434.22,233.71 434.86,233.67 435.49,233.62 436.12,233.58 436.76,233.54 437.39,233.49 438.03,233.45 438.66,233.41 439.30,233.37 439.94,233.33 440.57,233.29 441.20,233.25 441.84,233.21 442.48,233.17 443.11,233.13 443.75,233.09 444.38,233.05 445.01,233.01 445.65,232.97 446.28,232.94 446.92,232.90 447.56,232.86 448.19,232.83 448.82,232.79 449.46,232.76 450.10,232.72 450.73,232.69 451.37,232.66 452.00,232.62 452.64,232.59 453.27,232.56 453.90,232.53 454.54,232.50 455.18,232.46 455.81,232.43 456.44,232.40 457.08,232.37 457.71,232.35 458.35,232.32 458.99,232.29 459.62,232.26 460.25,232.23 460.89,232.21 461.52,232.18 462.16,232.16 462.79,232.13 463.43,232.11 464.06,232.08 464.70,232.06 465.33,232.04 465.97,232.01 466.61,231.99 467.24,231.97 467.88,231.95 468.51,231.93 469.14,231.91 469.78,231.89 470.41,231.87 471.05,231.85 471.69,231.83 472.32,231.81 472.95,231.80 473.59,231.78 474.23,231.76 474.86,231.75 475.50,231.73 476.13,231.72 476.76,231.70 477.40,231.69 478.03,231.67 478.67,231.66 479.31,231.65 479.94,231.64 480.57,231.63 481.21,231.62 481.85,231.61 482.48,231.60 483.12,231.59 483.75,231.58 484.39,231.57 485.02,231.56 485.65,231.55 486.29,231.55 486.93,231.54 487.56,231.53 488.19,231.53 488.83,231.52 489.47,231.52 490.10,231.52 490.74,231.51 491.37,231.51 492.00,231.51 492.64,231.51 493.27,231.50 493.91,231.50 494.54,231.50 495.18,231.50 495.81,231.50 496.45,231.51 497.08,231.51 497.72,231.51 498.36,231.51 498.99,231.51 499.62,231.52 500.26,231.52 500.89,231.53 501.53,231.53 502.16,231.54 502.80,231.54 503.44,231.55 504.07,231.56 504.70,231.57 505.34,231.57 505.98,231.58 506.61,231.59 507.25,231.60 507.88,231.61 508.51,231.62 509.15,231.63 509.78,231.64 510.42,231.66 511.06,231.67 511.69,231.68 512.33,231.69 512.96,231.71 513.60,231.72 514.23,231.74 514.87,231.75 515.50,231.77 516.14,231.78 516.77,231.80 517.40,231.82 518.04,231.84 518.68,231.85 519.31,231.87 519.95,231.89 520.58,231.91 521.22,231.93 521.85,231.95 522.49,231.97 523.12,231.99 523.75,232.02 524.39,232.04 525.02,232.06 525.66,232.08 526.29,232.11 526.93,232.13 527.57,232.16 528.20,232.18 528.84,232.21 529.47,232.23 530.11,232.26 530.74,232.28 531.38,232.31 532.01,232.34 532.64,232.37 533.28,232.40 533.91,232.42 534.55,232.45 535.19,232.48 535.82,232.51 536.46,232.54 537.09,232.57 537.73,232.61 538.36,232.64 539.00,232.67 539.63,232.70 540.26,232.74 540.90,232.77 541.53,232.80 542.17,232.84 542.81,232.87 543.44,232.91 544.08,232.94 544.71,232.98 545.35,233.01 545.98,233.05 546.62,233.09 547.25,233.12 547.89,233.16 548.52,233.20 549.15,233.24 549.79,233.28 550.43,233.32 551.06,233.35 551.70,233.39 552.33,233.43 552.97,233.47 553.60,233.52 554.24,233.56 554.87,233.60 555.50,233.64 556.14,233.68 556.77,233.73 557.41,233.77 558.04,233.81 558.68,233.86 559.32,233.90 559.95,233.94 560.59,233.99 561.22,234.03 561.86,234.08 562.49,234.12 563.12,234.17 563.76,234.22 564.39,234.26 565.03,234.31 565.66,234.36 566.30,234.40" stroke="#BEBEBE"/>
</g>
<g stroke-linecap="butt">
<line x1="65" y1="264" x2="547" y2="264" stroke="#4a4a4a" stroke-width="2"/>
<line x1="66" y1="57" x2="66" y2="265" stroke="#4e4e4e" stroke-width="2"/>
<line x1="546" y1="57" x2="546" y2="265" stroke="#4e4e4e" stroke-width="2"/>
<line x1="65" y1="57.5" x2="547" y2="57.5" stroke="#1a1a1a" stroke-width="1.15"/>
</g>
<g stroke="#000" stroke-width="1.2"><line x1="83.70" y1="264" x2="83.70" y2="273"/><line x1="147.20" y1="264" x2="147.20" y2="273"/><line x1="210.70" y1="264" x2="210.70" y2="273"/><line x1="274.20" y1="264" x2="274.20" y2="273"/><line x1="337.70" y1="264" x2="337.70" y2="273"/><line x1="401.20" y1="264" x2="401.20" y2="273"/><line x1="464.70" y1="264" x2="464.70" y2="273"/><line x1="528.20" y1="264" x2="528.20" y2="273"/><line x1="57.2" y1="256.50" x2="66" y2="256.50"/><line x1="57.2" y1="221.10" x2="66" y2="221.10"/><line x1="57.2" y1="185.70" x2="66" y2="185.70"/><line x1="57.2" y1="150.30" x2="66" y2="150.30"/><line x1="57.2" y1="114.90" x2="66" y2="114.90"/><line x1="57.2" y1="79.50" x2="66" y2="79.50"/></g>
<g font-size="13.2" text-anchor="middle"><text x="83.70" y="293.3">0.0</text><text x="147.20" y="293.3">0.5</text><text x="210.70" y="293.3">1.0</text><text x="274.20" y="293.3">1.5</text><text x="337.70" y="293.3">2.0</text><text x="401.20" y="293.3">2.5</text><text x="464.70" y="293.3">3.0</text><text x="528.20" y="293.3">3.5</text><text transform="translate(46.3,256.40) rotate(-90)">0.0</text><text transform="translate(46.3,221.00) rotate(-90)">0.5</text><text transform="translate(46.3,185.60) rotate(-90)">1.0</text><text transform="translate(46.3,150.20) rotate(-90)">1.5</text><text transform="translate(46.3,114.80) rotate(-90)">2.0</text><text transform="translate(46.3,79.40) rotate(-90)">2.5</text>
<text x="305.8" y="325.6" font-size="13">x</text>
<text transform="translate(13.3,160.2) rotate(-90)" font-size="13">PDF</text>
</g>
<g font-size="11.2" fill="none" stroke-width="2" stroke-linecap="round">
<text x="460" y="74.5" text-anchor="middle">Parameters</text>
<line x1="393.9" y1="87.5" x2="412.8" y2="87.5" stroke="#000000"/><text x="423.3" y="91.5">s = 0.5, a = 0.3, b = 0.2</text><line x1="393.9" y1="100.5" x2="412.8" y2="100.5" stroke="#FF0000"/><text x="423.3" y="104.5">s = 0.7, a = 0.2, b = 0.5</text><line x1="393.9" y1="113.5" x2="412.8" y2="113.5" stroke="#0000FF"/><text x="423.3" y="117.5">s = 0.4, a = 0.4, b = 0.2</text><line x1="393.9" y1="126.5" x2="412.8" y2="126.5" stroke="#006400"/><text x="423.3" y="130.5">s = 0.2, a = 0.6, b = 0.3</text><line x1="393.9" y1="139.5" x2="412.8" y2="139.5" stroke="#9810F0"/><text x="423.3" y="143.5">s = 0.3, a = 0.1, b = 0.7</text><line x1="393.9" y1="152.5" x2="412.8" y2="152.5" stroke="#FFA500"/><text x="423.3" y="156.5">s = 1.0, a = 0.4, b = 0.5</text><line x1="393.9" y1="165.5" x2="412.8" y2="165.5" stroke="#A3141C"/><text x="423.3" y="169.5">s = 1.3, a = 0.2, b = 0.4</text><line x1="393.9" y1="178.5" x2="412.8" y2="178.5" stroke="#BEBEBE"/><text x="423.3" y="182.5">s = 1.5, a = 0.1, b = 0.1</text>
</g>
</svg>
</body></html>
